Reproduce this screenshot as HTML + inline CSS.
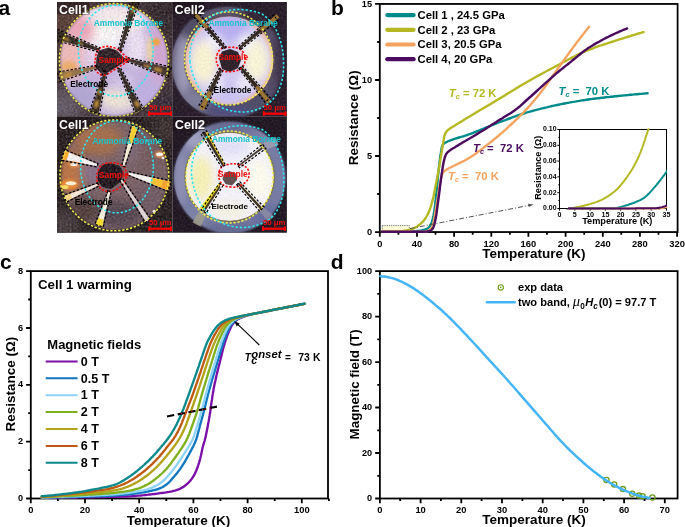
<!DOCTYPE html>
<html><head><meta charset="utf-8"><title>Figure</title>
<style>
html,body{margin:0;padding:0;background:#fff;}
body{width:685px;height:527px;overflow:hidden;position:relative;}
svg{position:absolute;left:0;top:0;display:block;}
svg text{font-family:"Liberation Sans",sans-serif;font-weight:bold;fill:#000;}
.it{font-style:italic;}
</style></head><body>
<svg width="685" height="527" viewBox="0 0 685 527">
<rect width="685" height="527" fill="#fff"/>

<g font-size="21">
<text x="-1.6" y="15.3">a</text><text x="331" y="15">b</text><text x="0" y="269">c</text><text x="330.8" y="269">d</text>
</g>
<g id="panel-a">
<defs>
<filter id="b1" x="-50%" y="-50%" width="200%" height="200%"><feGaussianBlur stdDeviation="1"/></filter>
<filter id="b2" x="-50%" y="-50%" width="200%" height="200%"><feGaussianBlur stdDeviation="2.2"/></filter>
<filter id="b4" x="-50%" y="-50%" width="200%" height="200%"><feGaussianBlur stdDeviation="4.5"/></filter>
<filter id="b8" x="-50%" y="-50%" width="200%" height="200%"><feGaussianBlur stdDeviation="8"/></filter>
<filter id="b05" x="-20%" y="-20%" width="140%" height="140%"><feGaussianBlur stdDeviation="0.45"/></filter>
<filter id="grain" x="0" y="0" width="100%" height="100%"><feTurbulence type="fractalNoise" baseFrequency="0.5" numOctaves="2" seed="7" result="n"/><feColorMatrix in="n" type="matrix" values="0 0 0 0 0.45  0 0 0 0 0.38  0 0 0 0 0.35  0.9 0.9 0.9 0 -1.1"/></filter>
<clipPath id="ca1"><rect x="57" y="2.1" width="115.4" height="114.7"/></clipPath>
<clipPath id="ca2"><rect x="172.4" y="2.1" width="114.5" height="114.7"/></clipPath>
<clipPath id="ca3"><rect x="57" y="116.8" width="115.4" height="115.9"/></clipPath>
<clipPath id="ca4"><rect x="172.4" y="116.8" width="114.5" height="115.9"/></clipPath>
<clipPath id="cc1"><ellipse cx="114" cy="60.2" rx="53.8" ry="56"/></clipPath>
<clipPath id="cc3"><ellipse cx="114.5" cy="175.3" rx="53.8" ry="55"/></clipPath>
<clipPath id="cr2"><circle cx="227.5" cy="63" r="56"/></clipPath>
<clipPath id="cr4"><circle cx="229.7" cy="177.6" r="55.8"/></clipPath>
<clipPath id="cc2"><circle cx="229.3" cy="60.5" r="44.5"/></clipPath>
<clipPath id="cc4"><circle cx="229.7" cy="176.8" r="44.4"/></clipPath>
</defs>
<g clip-path="url(#ca1)">
<rect x="57" y="2" width="116" height="115" fill="#3a2a30"/>
<ellipse cx="68" cy="18" rx="26" ry="20" fill="#55382f" filter="url(#b8)" opacity="0.9"/>
<ellipse cx="64" cy="106" rx="20" ry="18" fill="#5e5666" filter="url(#b8)" opacity="0.95"/>
<ellipse cx="166" cy="14" rx="18" ry="22" fill="#281c24" filter="url(#b8)" opacity="1"/>
<ellipse cx="166" cy="108" rx="16" ry="16" fill="#2a2030" filter="url(#b8)" opacity="1"/>
<g clip-path="url(#cc1)">
<ellipse cx="114" cy="60.2" rx="53.8" ry="56" fill="#c8b4e4"/>
<ellipse cx="112" cy="22" rx="34" ry="18" fill="#fdf0f4" filter="url(#b4)" opacity="1"/>
<ellipse cx="102" cy="40" rx="20" ry="16" fill="#ffffff" filter="url(#b4)" opacity="0.9"/>
<ellipse cx="80" cy="30" rx="14" ry="14" fill="#f2a8bc" filter="url(#b4)" opacity="1"/>
<ellipse cx="72" cy="58" rx="15" ry="22" fill="#f6bcbc" filter="url(#b4)" opacity="1"/>
<ellipse cx="69" cy="67" rx="8" ry="6" fill="#f2ac58" filter="url(#b2)" opacity="0.9"/>
<ellipse cx="92" cy="58" rx="10" ry="12" fill="#ead4f2" filter="url(#b4)" opacity="0.9"/>
<ellipse cx="137" cy="48" rx="12" ry="18" fill="#f2e8fc" filter="url(#b4)" opacity="0.95"/>
<ellipse cx="158" cy="56" rx="9" ry="28" fill="#d8a4d6" filter="url(#b4)" opacity="0.95"/>
<ellipse cx="150" cy="50" rx="2.5" ry="14" fill="#f8e690" filter="url(#b2)" opacity="0.9"/>
<ellipse cx="156" cy="42" rx="4" ry="3.6" fill="#f9a628" filter="url(#b1)" opacity="0.95"/>
<ellipse cx="118" cy="99" rx="20" ry="12" fill="#f4ecdc" filter="url(#b4)" opacity="0.95"/>
<ellipse cx="82" cy="98" rx="16" ry="14" fill="#aea6d8" filter="url(#b4)" opacity="0.9"/>
<ellipse cx="145" cy="93" rx="14" ry="14" fill="#c0b0ea" filter="url(#b4)" opacity="0.9"/>
<ellipse cx="124" cy="82" rx="10" ry="10" fill="#dccff4" filter="url(#b4)" opacity="0.8"/>
</g>
<ellipse cx="114" cy="60.2" rx="54.3" ry="56.5" fill="none" stroke="#4a3a40" stroke-width="1.6" filter="url(#b1)" opacity="0.7"/>
<polygon points="120.8,50.7 119.0,50.1 132.2,-0.5 138.6,1.5" fill="#24160e" filter="url(#b05)" opacity="0.95"/>
<polygon points="99.2,48.5 98.2,51.1 54.1,38.8 57.1,30.4" fill="#1e130f" filter="url(#b05)" opacity="0.95"/>
<polygon points="96.1,66.1 96.7,68.3 59.8,80.6 57.8,73.1" fill="#8a683a" filter="url(#b05)" opacity="0.95"/>
<polygon points="104.3,71.3 106.5,71.9 98.6,113.7 90.4,111.5" fill="#2a1a10" filter="url(#b05)" opacity="0.95"/>
<polygon points="118.0,68.7 119.6,67.9 142.5,108.6 135.7,111.8" fill="#20140e" filter="url(#b05)" opacity="0.95"/>
<polygon points="126.3,60.4 126.9,58.2 171.2,67.9 168.4,77.0" fill="#30201a" filter="url(#b05)" opacity="0.95"/>
<ellipse cx="66" cy="39" rx="3.6" ry="1.6" fill="#c8902f" filter="url(#b1)" opacity="0.9" transform="rotate(18 66 39)"/>
<ellipse cx="68" cy="75" rx="4.5" ry="2.0" fill="#c8902f" filter="url(#b1)" opacity="0.9" transform="rotate(-14 68 75)"/>
<ellipse cx="96.5" cy="104" rx="2.25" ry="4.0" fill="#c8902f" filter="url(#b1)" opacity="0.9" transform="rotate(12 96.5 104)"/>
<ellipse cx="137" cy="104" rx="2.25" ry="3.6" fill="#c8902f" filter="url(#b1)" opacity="0.9" transform="rotate(-25 137 104)"/>
<ellipse cx="158" cy="69.5" rx="4.5" ry="2.0" fill="#c8902f" filter="url(#b1)" opacity="0.9" transform="rotate(17 158 69.5)"/>
<ellipse cx="133" cy="10" rx="1.8" ry="3.2" fill="#c8902f" filter="url(#b1)" opacity="0.9" transform="rotate(-17 133 10)"/>
<ellipse cx="80" cy="43" rx="2.7" ry="1.2000000000000002" fill="#c8902f" filter="url(#b1)" opacity="0.9" transform="rotate(18 80 43)"/>
<ellipse cx="147" cy="66" rx="3.6" ry="1.2800000000000002" fill="#c8902f" filter="url(#b1)" opacity="0.9" transform="rotate(17 147 66)"/>
<ellipse cx="99" cy="92" rx="1.4400000000000002" ry="3.2" fill="#c8902f" filter="url(#b1)" opacity="0.9" transform="rotate(12 99 92)"/>
<polygon points="98.8,50.5 108.7,47.6 116.9,50.5 122.7,56.4 127.4,59.9 116.9,66.9 108.7,72.1 101.7,73.9 95.9,68.0 96.5,57.5" fill="#22161e" filter="url(#b05)" opacity="1"/>
<rect x="57" y="2" width="116" height="115" filter="url(#grain)" opacity="0.5"/>
<ellipse cx="114" cy="60.2" rx="54.6" ry="56.6" fill="none" stroke="#f0ee4c" stroke-width="1.5" stroke-dasharray="2.3,1.7"/>
<ellipse cx="115.8" cy="50.6" rx="37.4" ry="45.4" fill="none" stroke="#2ee8f0" stroke-width="1.55" stroke-dasharray="2.3,1.9"/>
<path d="M97,51.7 Q99,47.5 102.9,47 Q108,45.5 113.4,47.6 Q118,49 120.4,51.7 L129.2,59.3 Q128.5,61.5 125.7,62.8 L116.9,68 L108.7,73.3 Q105,75.5 101.7,75 Q97,73.5 95.3,69.2 Q94.3,64 95.3,59.9 Q95.5,55 97,51.7Z" fill="none" stroke="#f80c0c" stroke-width="1.6" stroke-dasharray="2.2,1.5"/>
<polygon points="121.5,50.9 118.3,49.9 131.2,-0.8 139.5,1.8" fill="none" stroke="#000" stroke-width="1.2" stroke-dasharray="2.4,1.7"/>
<polygon points="99.4,47.7 98.0,51.9 53.7,39.8 57.4,29.4" fill="none" stroke="#000" stroke-width="1.2" stroke-dasharray="2.4,1.7"/>
<polygon points="95.9,65.4 96.9,69.0 60.0,81.6 57.6,72.1" fill="none" stroke="#000" stroke-width="1.2" stroke-dasharray="2.4,1.7"/>
<polygon points="103.6,71.1 107.2,72.1 99.6,113.9 89.5,111.3" fill="none" stroke="#000" stroke-width="1.2" stroke-dasharray="2.4,1.7"/>
<polygon points="117.3,69.0 120.3,67.6 143.4,108.1 134.8,112.3" fill="none" stroke="#000" stroke-width="1.2" stroke-dasharray="2.4,1.7"/>
<polygon points="126.0,61.1 127.2,57.5 171.4,67.0 168.1,78.0" fill="none" stroke="#000" stroke-width="1.2" stroke-dasharray="2.4,1.7"/>
</g>
<g clip-path="url(#ca2)">
<rect x="172" y="2" width="116" height="115" fill="#241827"/>
<circle cx="227.5" cy="63" r="56" fill="#524e6a" filter="url(#b1)"/>
<g clip-path="url(#cr2)">
<ellipse cx="184" cy="66" rx="10" ry="32" fill="#9c9aba" filter="url(#b4)" opacity="1"/>
<ellipse cx="196" cy="100" rx="16" ry="12" fill="#8080a0" filter="url(#b4)" opacity="0.9"/>
<ellipse cx="232" cy="110" rx="26" ry="6" fill="#4c4c86" filter="url(#b4)" opacity="0.95"/>
<ellipse cx="262" cy="104" rx="18" ry="10" fill="#4c4866" filter="url(#b4)" opacity="0.85"/>
<ellipse cx="264" cy="14" rx="26" ry="12" fill="#2a1e2e" filter="url(#b4)" opacity="0.95"/>
<ellipse cx="282" cy="58" rx="7" ry="40" fill="#35283e" filter="url(#b4)" opacity="0.95"/>
<ellipse cx="192" cy="24" rx="12" ry="12" fill="#4c4660" filter="url(#b4)" opacity="0.8"/>
<ellipse cx="228" cy="9" rx="22" ry="5" fill="#5a5670" filter="url(#b4)" opacity="0.8"/>
</g>
<g clip-path="url(#cc2)">
<circle cx="229.3" cy="60.5" r="44.5" fill="#d4ccf6"/>
<circle cx="229.3" cy="60.5" r="42.8" fill="none" stroke="#f0b498" stroke-width="3.4" filter="url(#b1)" opacity="0.9"/>
<ellipse cx="229" cy="27" rx="20" ry="14" fill="#b8b0f4" filter="url(#b4)" opacity="1"/>
<ellipse cx="204" cy="62" rx="13" ry="22" fill="#fbf6d4" filter="url(#b4)" opacity="1"/>
<ellipse cx="256" cy="60" rx="13" ry="22" fill="#fbf8da" filter="url(#b4)" opacity="1"/>
<ellipse cx="229" cy="93" rx="18" ry="12" fill="#ccc4f6" filter="url(#b4)" opacity="1"/>
<ellipse cx="214" cy="42" rx="8" ry="8" fill="#ffffff" filter="url(#b4)" opacity="0.8"/>
<ellipse cx="246" cy="42" rx="8" ry="8" fill="#ffffff" filter="url(#b4)" opacity="0.8"/>
<ellipse cx="216" cy="84" rx="8" ry="8" fill="#ffffff" filter="url(#b4)" opacity="0.7"/>
<ellipse cx="244" cy="84" rx="8" ry="8" fill="#ffffff" filter="url(#b4)" opacity="0.7"/>
</g>
<circle cx="229.3" cy="60.5" r="44.8" fill="none" stroke="#5a4c50" stroke-width="1.4" filter="url(#b05)" opacity="0.85"/>
<polygon points="225.6,47.4 224.0,48.8 193.9,15.7 197.3,12.7" fill="#24160f" filter="url(#b05)" opacity="0.96"/>
<polygon points="240.0,48.9 238.8,47.3 274.0,15.8 277.2,19.6" fill="#2a1a12" filter="url(#b05)" opacity="0.96"/>
<polygon points="219.9,68.9 222.1,69.9 205.4,108.3 200.0,105.7" fill="#2a1c14" filter="url(#b05)" opacity="0.96"/>
<polygon points="239.5,68.0 241.5,66.4 269.5,98.5 265.6,101.6" fill="#24160f" filter="url(#b05)" opacity="0.96"/>
<polygon points="208.6,27.1 206.4,29.0 192.2,13.2 195.1,10.7" fill="#a87c30" filter="url(#b05)" opacity="0.9"/>
<polygon points="261.9,31.2 259.9,28.9 276.6,14.2 279.3,17.4" fill="#a87c30" filter="url(#b05)" opacity="0.9"/>
<polygon points="208.5,90.8 211.9,92.4 203.7,110.8 199.1,108.6" fill="#a87c30" filter="url(#b05)" opacity="0.9"/>
<polygon points="255.2,87.6 257.7,85.6 271.1,101.0 267.8,103.7" fill="#a87c30" filter="url(#b05)" opacity="0.9"/>
<polygon points="219.0,58.0 222.0,51.5 230.0,49.0 238.0,52.0 241.0,60.0 238.0,68.0 230.0,72.0 222.0,69.0" fill="#2a1e26" filter="url(#b05)" opacity="1"/>
<rect x="172" y="2" width="116" height="115" filter="url(#grain)" opacity="0.22"/>
<ellipse cx="228.5" cy="58.5" rx="44" ry="46.5" fill="none" stroke="#f0ee4c" stroke-width="1.5" stroke-dasharray="2.3,1.7"/>
<path d="M190,62 Q188,30 215,14 Q240,5 262,14 Q282,28 283.5,60 Q285,90 268,104 Q250,116 228,110 Q196,100 190,62Z" fill="none" stroke="#2ee8f0" stroke-width="1.55" stroke-dasharray="2.3,1.9"/>
<path d="M217,55 Q219,47 228,47.5 Q238,46 243,52 Q247,58 244,65 Q240,71 232,71.5 Q222,73 218,66 Q215,60 217,55Z" fill="none" stroke="#f80c0c" stroke-width="1.6" stroke-dasharray="2.2,1.5"/>
<polygon points="226.2,46.9 223.4,49.3 193.1,16.3 198.1,12.1" fill="none" stroke="#000" stroke-width="1.2" stroke-dasharray="2.4,1.7"/>
<polygon points="240.6,49.5 238.2,46.7 273.4,15.0 277.9,20.4" fill="none" stroke="#000" stroke-width="1.2" stroke-dasharray="2.4,1.7"/>
<polygon points="219.2,68.5 222.8,70.3 206.3,108.7 199.1,105.3" fill="none" stroke="#000" stroke-width="1.2" stroke-dasharray="2.4,1.7"/>
<polygon points="238.9,68.5 242.1,65.9 270.3,97.8 264.9,102.3" fill="none" stroke="#000" stroke-width="1.2" stroke-dasharray="2.4,1.7"/>
</g>
<g clip-path="url(#ca3)">
<rect x="57" y="116" width="116" height="118" fill="#1e1618"/>
<ellipse cx="166" cy="128" rx="14" ry="12" fill="#403636" filter="url(#b8)" opacity="0.9"/>
<ellipse cx="64" cy="224" rx="16" ry="14" fill="#4c4044" filter="url(#b8)" opacity="0.9"/>
<g clip-path="url(#cc3)">
<ellipse cx="114.5" cy="175.3" rx="53.8" ry="55" fill="#745c62"/>
<ellipse cx="98" cy="140" rx="26" ry="16" fill="#a66a44" filter="url(#b4)" opacity="0.95"/>
<ellipse cx="72" cy="172" rx="14" ry="22" fill="#c0723e" filter="url(#b4)" opacity="0.95"/>
<ellipse cx="150" cy="150" rx="16" ry="22" fill="#6e5458" filter="url(#b4)" opacity="0.9"/>
<ellipse cx="152" cy="200" rx="16" ry="18" fill="#6a5460" filter="url(#b4)" opacity="0.9"/>
<ellipse cx="94" cy="172" rx="14" ry="12" fill="#86708c" filter="url(#b4)" opacity="0.85"/>
<ellipse cx="130" cy="150" rx="12" ry="14" fill="#7c6878" filter="url(#b4)" opacity="0.7"/>
<ellipse cx="118" cy="214" rx="24" ry="13" fill="#4c3c48" filter="url(#b4)" opacity="0.95"/>
<ellipse cx="84" cy="210" rx="14" ry="13" fill="#463432" filter="url(#b4)" opacity="0.95"/>
</g>
<ellipse cx="114.5" cy="175.3" rx="54.1" ry="55.3" fill="none" stroke="#201818" stroke-width="1.6" filter="url(#b1)" opacity="0.8"/>
<polygon points="124.2,166.5 122.4,165.9 132.4,125.3 137.9,126.9" fill="#fff8dc" filter="url(#b05)" opacity="0.97"/>
<polygon points="97.8,164.2 97.2,166.2 61.7,159.3 64.4,150.4" fill="#ffffff" filter="url(#b05)" opacity="0.97"/>
<polygon points="97.9,183.6 98.7,185.2 66.1,201.3 63.9,196.1" fill="#fff4e4" filter="url(#b05)" opacity="0.97"/>
<polygon points="108.7,191.0 110.5,191.6 102.2,226.7 95.7,224.7" fill="#fffbe6" filter="url(#b05)" opacity="0.97"/>
<polygon points="120.1,179.9 121.7,178.9 149.9,219.6 146.1,222.1" fill="#eadfe0" filter="url(#b05)" opacity="0.97"/>
<polygon points="127.5,174.2 128.1,172.2 170.8,181.8 168.1,190.4" fill="#ffffff" filter="url(#b05)" opacity="0.97"/>
<polygon points="132.1,143.6 128.2,142.4 132.4,125.3 137.9,126.9" fill="#ffd21c" filter="url(#b05)" opacity="0.95"/>
<polygon points="69.0,152.2 66.6,160.4 61.7,159.3 64.4,150.4" fill="#ffa820" filter="url(#b05)" opacity="0.95"/>
<polygon points="98.2,218.1 103.9,219.9 102.2,226.7 95.7,224.7" fill="#ffe01c" filter="url(#b05)" opacity="0.95"/>
<polygon points="150.2,183.3 152.0,177.6 170.8,181.8 168.1,190.4" fill="#ffc21c" filter="url(#b05)" opacity="0.95"/>
<polygon points="160.8,187.6 163.2,180.0 170.8,181.8 168.1,190.4" fill="#ff9a20" filter="url(#b05)" opacity="0.8"/>
<polygon points="70.2,193.7 72.2,198.4 66.1,201.3 63.9,196.1" fill="#ffd870" filter="url(#b05)" opacity="0.8"/>
<ellipse cx="159.5" cy="154.5" rx="5" ry="3.4" fill="#ff9a40" filter="url(#b1)" opacity="0.8"/>
<ellipse cx="159.5" cy="154.3" rx="3.4" ry="1.9" fill="#ffffff" filter="url(#b05)" opacity="1"/>
<ellipse cx="163" cy="158" rx="1.5" ry="1.2" fill="#ffffff" filter="url(#b05)" opacity="0.9"/>
<ellipse cx="74" cy="164.6" rx="5" ry="2.6" fill="#ff9a40" filter="url(#b1)" opacity="0.8"/>
<ellipse cx="74" cy="164.5" rx="3.6" ry="1.6" fill="#ffffff" filter="url(#b05)" opacity="1"/>
<ellipse cx="69" cy="184.5" rx="9" ry="5" fill="#ff8c28" filter="url(#b1)" opacity="0.85"/>
<ellipse cx="71" cy="183.3" rx="5.5" ry="2" fill="#fffbe0" filter="url(#b05)" opacity="1"/>
<ellipse cx="65" cy="187" rx="3.5" ry="2" fill="#ffe060" filter="url(#b05)" opacity="1"/>
<ellipse cx="154.2" cy="211.3" rx="1.6" ry="1.6" fill="#ffffff" filter="url(#b05)" opacity="0.95"/>
<polygon points="98.0,172.0 102.0,165.0 111.0,163.0 120.0,166.0 124.0,174.0 119.0,183.0 111.0,189.0 102.0,187.0 97.5,180.0" fill="#180f12" filter="url(#b05)" opacity="1"/>
<rect x="57" y="116" width="116" height="118" filter="url(#grain)" opacity="0.45"/>
<ellipse cx="114.4" cy="175.4" rx="54.4" ry="55.4" fill="none" stroke="#f0ee4c" stroke-width="1.5" stroke-dasharray="2.3,1.7"/>
<ellipse cx="117" cy="166.8" rx="36.4" ry="46" fill="none" stroke="#2ee8f0" stroke-width="1.55" stroke-dasharray="2.3,1.9"/>
<path d="M98,171 Q100,163 110,163 Q120,162 125,168 Q128,176 124,183 Q119,190 112,191 Q103,193 99,186 Q95,179 98,171Z" fill="none" stroke="#f80c0c" stroke-width="1.6" stroke-dasharray="2.2,1.5"/>
<polygon points="124.9,166.7 121.7,165.7 131.4,125.0 138.8,127.1" fill="none" stroke="#000" stroke-width="1.2" stroke-dasharray="2.4,1.7"/>
<polygon points="98.0,163.5 97.0,166.9 61.4,160.3 64.7,149.5" fill="none" stroke="#000" stroke-width="1.2" stroke-dasharray="2.4,1.7"/>
<polygon points="97.6,182.8 99.0,186.0 66.5,202.2 63.5,195.2" fill="none" stroke="#000" stroke-width="1.2" stroke-dasharray="2.4,1.7"/>
<polygon points="108.0,190.8 111.2,191.8 103.2,227.0 94.8,224.4" fill="none" stroke="#000" stroke-width="1.2" stroke-dasharray="2.4,1.7"/>
<polygon points="119.5,180.3 122.3,178.5 150.8,219.0 145.3,222.7" fill="none" stroke="#000" stroke-width="1.2" stroke-dasharray="2.4,1.7"/>
<polygon points="127.3,174.9 128.3,171.5 171.1,180.9 167.8,191.4" fill="none" stroke="#000" stroke-width="1.2" stroke-dasharray="2.4,1.7"/>
</g>
<g clip-path="url(#ca4)">
<rect x="172" y="116" width="116" height="118" fill="#1c1420"/>
<circle cx="229.7" cy="177.6" r="55.8" fill="#747aa4" filter="url(#b1)"/>
<g clip-path="url(#cr4)">
<ellipse cx="181" cy="178" rx="7" ry="30" fill="#9092b6" filter="url(#b4)" opacity="0.95"/>
<ellipse cx="194" cy="138" rx="12" ry="12" fill="#a6a6c6" filter="url(#b4)" opacity="0.9"/>
<ellipse cx="230" cy="127" rx="24" ry="4" fill="#5c5c84" filter="url(#b4)" opacity="0.9"/>
<ellipse cx="279" cy="178" rx="6" ry="30" fill="#747ca6" filter="url(#b4)" opacity="0.9"/>
<ellipse cx="266" cy="216" rx="16" ry="10" fill="#6068a0" filter="url(#b4)" opacity="0.85"/>
<ellipse cx="230" cy="229" rx="26" ry="4" fill="#565c86" filter="url(#b4)" opacity="0.9"/>
<ellipse cx="194" cy="216" rx="14" ry="10" fill="#7c84a8" filter="url(#b4)" opacity="0.85"/>
<ellipse cx="268" cy="138" rx="10" ry="10" fill="#8486aa" filter="url(#b4)" opacity="0.8"/>
</g>
<g clip-path="url(#cc4)">
<circle cx="229.7" cy="176.8" r="44.4" fill="#f6f5fd"/>
<ellipse cx="229" cy="146" rx="20" ry="10" fill="#e2e2fa" filter="url(#b4)" opacity="0.95"/>
<ellipse cx="201" cy="178" rx="12" ry="22" fill="#f8f3b8" filter="url(#b4)" opacity="1"/>
<ellipse cx="258" cy="180" rx="12" ry="20" fill="#fffef0" filter="url(#b4)" opacity="1"/>
<ellipse cx="229" cy="210" rx="18" ry="9" fill="#f6f4e4" filter="url(#b4)" opacity="1"/>
</g>
<circle cx="229.7" cy="176.8" r="44.7" fill="none" stroke="#7a7040" stroke-width="1.3" filter="url(#b05)" opacity="0.8"/>
<polygon points="264.8,150.1 262.0,143.7 275.4,137.3 278.6,144.7" fill="#a0a0b4" filter="url(#b05)" opacity="0.85"/>
<polygon points="200.0,209.6 207.0,213.4 200.5,226.6 192.5,222.4" fill="#a09e8c" filter="url(#b05)" opacity="0.85"/>
<polygon points="258.9,210.4 263.3,206.4 273.9,216.3 268.1,221.7" fill="#8e8ea4" filter="url(#b05)" opacity="0.8"/>
<polygon points="206.4,132.0 202.0,134.4 196.0,125.7 202.0,122.3" fill="#8a8aa4" filter="url(#b05)" opacity="0.7"/>
<polygon points="225.2,165.1 223.8,165.9 205.0,133.3 208.0,131.7" fill="#f0d428" filter="url(#b05)" opacity="0.95"/>
<polygon points="219.0,183.2 220.6,184.4 204.3,211.1 199.7,207.9" fill="#f4e61e" filter="url(#b05)" opacity="0.95"/>
<polygon points="239.1,184.6 239.9,183.8 262.9,208.7 261.1,210.3" fill="#e8c83a" filter="url(#b05)" opacity="0.9"/>
<polygon points="224.4,165.7 222.6,166.7 202.4,133.1 205.0,131.6" fill="#2c2016" filter="url(#b05)" opacity="0.95"/>
<polygon points="238.7,166.8 237.9,165.6 263.5,145.4 264.9,147.2" fill="#3a2e26" filter="url(#b05)" opacity="0.95"/>
<polygon points="220.4,183.9 222.0,184.9 204.7,212.1 202.6,210.7" fill="#3a2a18" filter="url(#b05)" opacity="0.95"/>
<polygon points="237.6,183.9 239.0,182.7 262.7,208.3 260.8,210.0" fill="#2c2016" filter="url(#b05)" opacity="0.95"/>
<polygon points="224.0,174.0 229.0,171.0 236.0,173.5 237.0,180.0 232.0,185.5 225.5,184.0 222.5,179.0" fill="#5e4e50" filter="url(#b05)" opacity="1"/>
<ellipse cx="240" cy="171.5" rx="2.2" ry="1.6" fill="#ffffff" filter="url(#b05)" opacity="1"/>
<ellipse cx="222" cy="186" rx="2" ry="2.4" fill="#ffffff" filter="url(#b05)" opacity="1"/>
<rect x="172" y="116" width="116" height="118" filter="url(#grain)" opacity="0.2"/>
<ellipse cx="229.5" cy="177" rx="43.6" ry="46" fill="none" stroke="#f0ee4c" stroke-width="1.5" stroke-dasharray="2.3,1.7"/>
<path d="M191.6,176 Q190,146 215,131 Q240,121 263,130 Q282,144 283.8,176 Q285,206 270,219 Q252,231 230,226 Q197,216 191.6,176Z" fill="none" stroke="#2ee8f0" stroke-width="1.55" stroke-dasharray="2.3,1.9"/>
<path d="M219,172 Q221,164.5 228.5,164.5 Q233,163 238,164.5 Q247,165 249,172 Q250,180 243,184 Q238,188 231,187 Q222,187 219.5,180 Q218,176 219,172Z" fill="none" stroke="#f80c0c" stroke-width="1.6" stroke-dasharray="2.2,1.5"/>
<polygon points="225.4,165.1 221.6,167.3 200.9,134.0 206.5,130.7" fill="none" stroke="#000" stroke-width="1.2" stroke-dasharray="2.4,1.7"/>
<polygon points="239.5,167.7 237.1,164.7 262.5,144.1 265.9,148.5" fill="none" stroke="#000" stroke-width="1.2" stroke-dasharray="2.4,1.7"/>
<polygon points="219.4,183.3 223.0,185.5 206.2,213.1 201.1,209.8" fill="none" stroke="#000" stroke-width="1.2" stroke-dasharray="2.4,1.7"/>
<polygon points="236.7,184.7 239.9,181.9 264.0,207.1 259.6,211.2" fill="none" stroke="#000" stroke-width="1.2" stroke-dasharray="2.4,1.7"/>
</g>
<rect x="57" y="2.1" width="32.6" height="12.4" fill="#1a1016" opacity="0.55"/>
<rect x="172.4" y="2.1" width="32.6" height="12.4" fill="#1a1016" opacity="0.55"/>
<rect x="57" y="116.8" width="32.6" height="12.4" fill="#1a1016" opacity="0.55"/>
<rect x="172.4" y="117.6" width="32.6" height="12.4" fill="#1a1016" opacity="0.55"/>
<text x="59" y="13.8" font-size="13.6" textLength="29.5" lengthAdjust="spacingAndGlyphs" style="fill:#fff">Cell1</text>
<text x="174.6" y="13.8" font-size="13.6" textLength="30.3" lengthAdjust="spacingAndGlyphs" style="fill:#fff">Cell2</text>
<text x="59" y="128.5" font-size="13.6" textLength="29.5" lengthAdjust="spacingAndGlyphs" style="fill:#fff">Cell1</text>
<text x="174.8" y="129.2" font-size="13.6" textLength="30.3" lengthAdjust="spacingAndGlyphs" style="fill:#fff">Cell2</text>
<text x="93.8" y="26.3" font-size="8.4" style="fill:#18c4cc">Ammonia Borane</text>
<text x="208.4" y="26.1" font-size="8.4" style="fill:#18c4cc">Ammonia Borane</text>
<text x="92.4" y="144" font-size="8.45" style="fill:#18c4cc">Ammonia Borane</text>
<text x="211.9" y="142.1" font-size="8.35" style="fill:#18c4cc">Ammonia Borane</text>
<text x="98.6" y="62.9" font-size="8.35" style="fill:#f20c0c">Sample</text>
<text x="218.4" y="59.8" font-size="8.35" style="fill:#f20c0c">Sample</text>
<text x="98.8" y="177.8" font-size="8.5" style="fill:#f20c0c">Sample</text>
<text x="218" y="176.6" font-size="8.35" style="fill:#f20c0c">Sample</text>
<text x="70.2" y="86.6" font-size="8.3" style="fill:#000">Electrode</text>
<text x="213.6" y="92.5" font-size="8.3" style="fill:#000">Electrode</text>
<text x="74.7" y="204.5" font-size="8.3" style="fill:#000">Electrode</text>
<text x="211.4" y="208.7" font-size="8.0" style="fill:#000">Electrode</text>
<text x="148.89999999999998" y="109.8" font-size="6.9" textLength="22.600000000000012" lengthAdjust="spacingAndGlyphs" style="fill:#f20c0c">50 μm</text>
<path d="M148.2,113.7H172.0" stroke="#ff0000" stroke-width="2.3" fill="none"/><path d="M149.1,111.2v4.9M171.1,111.2v4.9" stroke="#ff0000" stroke-width="1.8" fill="none"/>
<text x="263.59999999999997" y="109.8" font-size="6.9" textLength="22.200000000000035" lengthAdjust="spacingAndGlyphs" style="fill:#f20c0c">50 μm</text>
<path d="M262.9,113.7H286.3" stroke="#ff0000" stroke-width="2.3" fill="none"/><path d="M263.79999999999995,111.2v4.9M285.40000000000003,111.2v4.9" stroke="#ff0000" stroke-width="1.8" fill="none"/>
<text x="149.1" y="225.0" font-size="6.9" textLength="22.200000000000006" lengthAdjust="spacingAndGlyphs" style="fill:#f20c0c">50 μm</text>
<path d="M148.4,228.7H171.8" stroke="#ff0000" stroke-width="2.3" fill="none"/><path d="M149.3,226.2v4.9M170.9,226.2v4.9" stroke="#ff0000" stroke-width="1.8" fill="none"/>
<text x="262.9" y="225.0" font-size="6.9" textLength="22.49999999999999" lengthAdjust="spacingAndGlyphs" style="fill:#f20c0c">50 μm</text>
<path d="M262.2,228.7H285.9" stroke="#ff0000" stroke-width="2.3" fill="none"/><path d="M263.09999999999997,226.2v4.9M285.0,226.2v4.9" stroke="#ff0000" stroke-width="1.8" fill="none"/>
</g>
<g id="panel-b">
<rect x="382.3" y="225.6" width="27.0" height="6.5" fill="#fdfcd8" stroke="#333" stroke-width="0.7" stroke-dasharray="1.2,1"/>
<rect x="379.8" y="3.95" width="297.8" height="228.10000000000002" fill="none" stroke="#000" stroke-width="1.8"/>
<path d="M379.8,232.05v4.7M417.0,232.05v4.7M454.1,232.05v4.7M491.3,232.05v4.7M528.4,232.05v4.7M565.6,232.05v4.7M602.8,232.05v4.7M639.9,232.05v4.7M677.1,232.05v4.7M398.4,232.05v2.6M435.5,232.05v2.6M472.7,232.05v2.6M509.9,232.05v2.6M547.0,232.05v2.6M584.2,232.05v2.6M621.3,232.05v2.6M658.5,232.05v2.6M379.8,232.1h-4.7M379.8,156.0h-4.7M379.8,80.0h-4.7M379.8,3.9h-4.7M379.8,194.0h-2.6M379.8,118.0h-2.6M379.8,42.0h-2.6" stroke="#000" stroke-width="1.8" fill="none"/>
<text x="379.8" y="246.8" text-anchor="middle" font-size="9.4">0</text>
<text x="417.0" y="246.8" text-anchor="middle" font-size="9.4">40</text>
<text x="454.1" y="246.8" text-anchor="middle" font-size="9.4">80</text>
<text x="491.3" y="246.8" text-anchor="middle" font-size="9.4">120</text>
<text x="528.4" y="246.8" text-anchor="middle" font-size="9.4">160</text>
<text x="565.6" y="246.8" text-anchor="middle" font-size="9.4">200</text>
<text x="602.8" y="246.8" text-anchor="middle" font-size="9.4">240</text>
<text x="639.9" y="246.8" text-anchor="middle" font-size="9.4">280</text>
<text x="677.1" y="246.8" text-anchor="middle" font-size="9.4">320</text>
<text x="372.0" y="234.6" text-anchor="end" font-size="9.17">0</text>
<text x="372.0" y="158.6" text-anchor="end" font-size="9.17">5</text>
<text x="372.0" y="82.5" text-anchor="end" font-size="9.17">10</text>
<text x="372.0" y="6.5" text-anchor="end" font-size="9.17">15</text>
<path d="M382.0,231.6 L383.5,231.6 L385.0,231.6 L386.5,231.6 L388.0,231.6 L389.5,231.6 L391.0,231.6 L392.5,231.6 L394.0,231.6 L395.5,231.6 L397.0,231.6 L398.5,231.6 L400.0,231.6 L401.5,231.6 L403.0,231.5 L404.5,231.5 L406.0,231.5 L407.5,231.5 L409.0,231.5 L410.5,231.5 L412.0,231.4 L413.5,231.3 L415.0,231.2 L416.5,231.0 L418.0,230.9 L419.5,230.7 L421.0,230.5 L422.4,230.2 L423.9,229.8 L425.3,229.4 L426.7,228.9 L428.0,228.2 L429.1,227.2 L430.0,225.9 L430.7,224.6 L431.3,223.3 L431.9,221.9 L432.3,220.4 L432.7,219.0 L433.0,217.5 L433.4,216.1 L433.7,214.6 L433.9,213.1 L434.2,211.6 L434.4,210.2 L434.6,208.7 L434.8,207.2 L435.0,205.7 L435.2,204.2 L435.3,202.7 L435.5,201.2 L435.7,199.7 L435.8,198.2 L436.0,196.7 L436.1,195.3 L436.3,193.8 L436.5,192.3 L436.6,190.8 L436.8,189.3 L436.9,187.8 L437.0,186.3 L437.2,184.8 L437.3,183.3 L437.5,181.8 L437.6,180.3 L437.7,178.8 L437.9,177.3 L438.0,175.8 L438.2,174.3 L438.3,172.8 L438.5,171.3 L438.7,169.9 L438.8,168.4 L439.0,166.9 L439.2,165.4 L439.4,163.9 L439.5,162.4 L439.7,160.9 L439.9,159.4 L440.1,157.9 L440.3,156.4 L440.5,155.0 L440.8,153.5 L441.0,152.0 L441.3,150.5 L441.5,149.0 L441.8,147.6 L442.2,146.1 L442.8,144.8 L443.7,143.7 L444.9,142.8 L446.3,142.2 L447.6,141.5 L449.0,140.9 L450.4,140.4 L451.8,139.9 L453.2,139.3 L454.6,138.9 L456.1,138.4 L457.5,138.0 L458.9,137.5 L460.4,137.1 L461.8,136.7 L463.2,136.3 L464.7,135.8 L466.1,135.4 L467.5,134.9 L468.9,134.4 L470.4,133.9 L471.8,133.3 L473.2,132.8 L474.6,132.2 L476.0,131.7 L477.4,131.1 L478.7,130.6 L480.1,130.0 L481.5,129.4 L482.9,128.9 L484.3,128.3 L485.7,127.7 L487.1,127.1 L488.5,126.6 L489.9,126.0 L491.2,125.4 L492.6,124.9 L494.0,124.3 L495.4,123.8 L496.8,123.2 L498.2,122.7 L499.6,122.2 L501.0,121.6 L502.4,121.1 L503.9,120.6 L505.3,120.1 L506.7,119.5 L508.1,119.0 L509.5,118.5 L510.9,118.0 L512.3,117.4 L513.7,116.9 L515.1,116.4 L516.5,115.9 L517.9,115.4 L519.4,114.9 L520.8,114.5 L522.2,114.0 L523.6,113.5 L525.1,113.1 L526.5,112.7 L528.0,112.2 L529.4,111.8 L530.8,111.4 L532.3,111.0 L533.7,110.6 L535.2,110.2 L536.6,109.8 L538.1,109.4 L539.5,109.1 L541.0,108.7 L542.5,108.3 L543.9,108.0 L545.4,107.6 L546.8,107.3 L548.3,106.9 L549.8,106.6 L551.2,106.2 L552.7,105.9 L554.1,105.6 L555.6,105.3 L557.1,105.0 L558.6,104.7 L560.0,104.4 L561.5,104.1 L563.0,103.8 L564.4,103.5 L565.9,103.2 L567.4,102.9 L568.9,102.7 L570.3,102.4 L571.8,102.1 L573.3,101.9 L574.8,101.6 L576.3,101.4 L577.7,101.1 L579.2,100.9 L580.7,100.6 L582.2,100.4 L583.7,100.2 L585.2,100.0 L586.6,99.7 L588.1,99.5 L589.6,99.3 L591.1,99.1 L592.6,98.9 L594.1,98.7 L595.6,98.5 L597.1,98.4 L598.6,98.2 L600.0,98.0 L601.5,97.8 L603.0,97.7 L604.5,97.5 L606.0,97.3 L607.5,97.1 L609.0,97.0 L610.5,96.8 L612.0,96.7 L613.5,96.5 L615.0,96.3 L616.5,96.2 L618.0,96.0 L619.4,95.9 L620.9,95.7 L622.4,95.6 L623.9,95.4 L625.4,95.3 L626.9,95.1 L628.4,95.0 L629.9,94.8 L631.4,94.7 L632.9,94.6 L634.4,94.4 L635.9,94.3 L637.4,94.2 L638.9,94.0 L640.4,93.9 L641.9,93.8 L643.4,93.6 L644.9,93.5 L646.4,93.4 L647.6,93.3" fill="none" stroke="#008b8b" stroke-width="2.4" stroke-linecap="round" stroke-linejoin="round"/>
<path d="M382.0,231.5 L383.5,231.5 L385.0,231.5 L386.5,231.5 L388.0,231.5 L389.5,231.4 L391.0,231.4 L392.5,231.4 L394.0,231.4 L395.5,231.3 L397.0,231.3 L398.5,231.2 L400.0,231.2 L401.5,231.1 L403.0,231.0 L404.5,230.8 L406.0,230.6 L407.5,230.3 L408.9,230.0 L410.4,229.7 L411.8,229.2 L413.2,228.6 L414.6,228.0 L415.8,227.2 L417.1,226.4 L418.3,225.5 L419.5,224.6 L420.7,223.7 L421.8,222.7 L422.9,221.6 L423.8,220.5 L424.7,219.3 L425.6,218.0 L426.4,216.8 L427.1,215.5 L427.8,214.1 L428.5,212.8 L429.0,211.4 L429.6,210.0 L430.1,208.6 L430.6,207.1 L431.0,205.7 L431.5,204.3 L431.9,202.8 L432.3,201.4 L432.7,199.9 L433.0,198.5 L433.4,197.0 L433.7,195.6 L434.0,194.1 L434.3,192.6 L434.6,191.1 L434.9,189.7 L435.1,188.2 L435.4,186.7 L435.7,185.2 L436.0,183.8 L436.3,182.3 L436.6,180.8 L436.9,179.3 L437.2,177.9 L437.4,176.4 L437.7,174.9 L438.0,173.4 L438.3,172.0 L438.5,170.5 L438.8,169.0 L439.1,167.5 L439.3,166.1 L439.6,164.6 L439.8,163.1 L440.1,161.6 L440.3,160.1 L440.6,158.6 L440.8,157.2 L441.0,155.7 L441.3,154.2 L441.5,152.7 L441.8,151.2 L442.0,149.8 L442.3,148.3 L442.5,146.8 L442.8,145.3 L443.0,143.8 L443.2,142.3 L443.5,140.9 L443.7,139.4 L444.0,137.9 L444.3,136.4 L444.7,135.0 L445.3,133.6 L446.0,132.3 L446.9,131.1 L448.0,130.0 L449.1,129.1 L450.3,128.2 L451.6,127.4 L452.9,126.7 L454.2,125.9 L455.5,125.1 L456.7,124.3 L458.0,123.5 L459.3,122.7 L460.6,121.9 L461.8,121.2 L463.1,120.4 L464.4,119.6 L465.7,118.8 L467.0,118.0 L468.3,117.3 L469.6,116.5 L470.8,115.7 L472.1,114.9 L473.4,114.2 L474.7,113.4 L476.0,112.6 L477.3,111.8 L478.6,111.1 L479.9,110.3 L481.1,109.5 L482.4,108.8 L483.7,108.0 L485.0,107.2 L486.3,106.5 L487.6,105.7 L488.9,104.9 L490.2,104.2 L491.5,103.4 L492.8,102.6 L494.1,101.9 L495.3,101.1 L496.6,100.3 L497.9,99.5 L499.2,98.8 L500.5,98.0 L501.8,97.2 L503.1,96.4 L504.3,95.7 L505.6,94.9 L506.9,94.1 L508.2,93.3 L509.5,92.5 L510.7,91.7 L512.0,91.0 L513.3,90.2 L514.6,89.4 L515.9,88.6 L517.2,87.8 L518.4,87.1 L519.7,86.3 L521.0,85.5 L522.3,84.7 L523.6,84.0 L524.9,83.2 L526.2,82.5 L527.5,81.7 L528.8,81.0 L530.1,80.2 L531.4,79.5 L532.7,78.7 L534.0,78.0 L535.3,77.3 L536.7,76.6 L538.0,75.8 L539.3,75.1 L540.6,74.4 L541.9,73.7 L543.2,72.9 L544.6,72.2 L545.9,71.5 L547.2,70.8 L548.5,70.1 L549.9,69.4 L551.2,68.7 L552.5,68.0 L553.8,67.3 L555.2,66.6 L556.5,65.9 L557.8,65.2 L559.1,64.5 L560.5,63.8 L561.8,63.1 L563.1,62.3 L564.4,61.6 L565.8,60.9 L567.1,60.2 L568.4,59.5 L569.7,58.8 L571.1,58.1 L572.4,57.4 L573.7,56.7 L575.1,56.1 L576.4,55.4 L577.8,54.7 L579.1,54.1 L580.5,53.4 L581.8,52.8 L583.2,52.2 L584.6,51.6 L586.0,51.0 L587.4,50.4 L588.8,49.9 L590.2,49.3 L591.6,48.8 L593.0,48.3 L594.4,47.7 L595.8,47.2 L597.2,46.7 L598.6,46.2 L600.0,45.7 L601.5,45.3 L602.9,44.8 L604.3,44.3 L605.7,43.8 L607.2,43.4 L608.6,42.9 L610.0,42.4 L611.5,42.0 L612.9,41.5 L614.3,41.1 L615.7,40.6 L617.2,40.1 L618.6,39.7 L620.0,39.2 L621.5,38.8 L622.9,38.3 L624.3,37.8 L625.8,37.4 L627.2,37.0 L628.6,36.5 L630.1,36.1 L631.5,35.6 L632.9,35.2 L634.4,34.8 L635.8,34.3 L637.2,33.9 L638.7,33.5 L640.1,33.1 L641.6,32.7 L643.0,32.2 L643.5,32.1" fill="none" stroke="#b5b822" stroke-width="2.4" stroke-linecap="round" stroke-linejoin="round"/>
<path d="M382.0,231.7 L383.5,231.7 L385.0,231.7 L386.5,231.7 L388.0,231.7 L389.5,231.7 L391.0,231.7 L392.5,231.7 L394.0,231.7 L395.5,231.7 L397.0,231.7 L398.5,231.7 L400.0,231.7 L401.5,231.7 L403.0,231.7 L404.5,231.7 L406.0,231.7 L407.5,231.7 L409.0,231.7 L410.5,231.7 L412.0,231.7 L413.5,231.7 L415.0,231.7 L416.5,231.6 L418.0,231.6 L419.5,231.6 L421.0,231.6 L422.5,231.6 L424.0,231.6 L425.5,231.5 L427.0,231.2 L428.4,230.6 L429.7,229.9 L430.7,228.9 L431.6,227.7 L432.4,226.4 L432.9,225.0 L433.3,223.6 L433.6,222.1 L433.9,220.6 L434.2,219.2 L434.4,217.7 L434.7,216.2 L435.0,214.7 L435.2,213.2 L435.5,211.8 L435.7,210.3 L436.0,208.8 L436.2,207.3 L436.5,205.8 L436.7,204.3 L436.9,202.9 L437.1,201.4 L437.4,199.9 L437.6,198.4 L437.9,196.9 L438.1,195.4 L438.3,194.0 L438.6,192.5 L438.8,191.0 L439.1,189.5 L439.3,188.0 L439.5,186.6 L439.8,185.1 L440.0,183.6 L440.3,182.1 L440.6,180.6 L440.9,179.2 L441.3,177.7 L441.7,176.3 L442.1,174.8 L442.6,173.4 L443.3,172.1 L444.3,171.0 L445.5,170.2 L446.8,169.4 L448.1,168.7 L449.4,168.0 L450.8,167.3 L452.1,166.6 L453.5,166.0 L454.8,165.3 L456.2,164.7 L457.5,164.0 L458.9,163.3 L460.2,162.7 L461.6,162.0 L462.9,161.4 L464.3,160.7 L465.6,160.0 L466.9,159.3 L468.2,158.6 L469.5,157.8 L470.8,157.0 L472.0,156.2 L473.3,155.3 L474.5,154.5 L475.7,153.6 L476.9,152.7 L478.1,151.8 L479.3,150.9 L480.5,150.0 L481.7,149.1 L482.9,148.2 L484.1,147.2 L485.3,146.3 L486.5,145.4 L487.7,144.5 L488.9,143.6 L490.0,142.6 L491.2,141.7 L492.4,140.8 L493.5,139.8 L494.7,138.9 L495.9,137.9 L497.0,137.0 L498.2,136.0 L499.3,135.0 L500.4,134.0 L501.6,133.1 L502.7,132.1 L503.8,131.1 L505.0,130.1 L506.1,129.1 L507.2,128.1 L508.3,127.1 L509.4,126.0 L510.5,125.0 L511.6,124.0 L512.7,123.0 L513.8,121.9 L514.9,120.9 L516.0,119.9 L517.1,118.8 L518.1,117.8 L519.2,116.7 L520.3,115.7 L521.3,114.6 L522.4,113.6 L523.5,112.5 L524.5,111.4 L525.5,110.3 L526.6,109.2 L527.6,108.1 L528.6,107.0 L529.6,105.9 L530.6,104.8 L531.6,103.6 L532.5,102.5 L533.5,101.3 L534.5,100.2 L535.4,99.0 L536.4,97.9 L537.3,96.7 L538.3,95.5 L539.2,94.4 L540.1,93.2 L541.1,92.0 L542.0,90.8 L542.9,89.6 L543.8,88.4 L544.7,87.2 L545.6,86.0 L546.5,84.8 L547.3,83.6 L548.2,82.4 L549.1,81.1 L550.0,79.9 L550.8,78.7 L551.7,77.4 L552.5,76.2 L553.4,75.0 L554.3,73.8 L555.1,72.5 L556.0,71.3 L556.9,70.1 L557.7,68.9 L558.6,67.6 L559.5,66.4 L560.4,65.2 L561.2,64.0 L562.1,62.7 L563.0,61.5 L563.8,60.3 L564.7,59.1 L565.6,57.8 L566.4,56.6 L567.3,55.4 L568.2,54.2 L569.1,53.0 L569.9,51.7 L570.8,50.5 L571.7,49.3 L572.6,48.1 L573.5,46.9 L574.4,45.7 L575.3,44.5 L576.2,43.3 L577.1,42.1 L578.0,40.9 L578.9,39.7 L579.9,38.5 L580.8,37.3 L581.7,36.2 L582.6,35.0 L583.5,33.8 L584.4,32.6 L585.4,31.4 L586.3,30.2 L587.2,29.1 L588.2,27.9 L589.1,26.7" fill="none" stroke="#f4a460" stroke-width="2.4" stroke-linecap="round" stroke-linejoin="round"/>
<path d="M382.0,231.7 L383.5,231.7 L385.0,231.7 L386.5,231.7 L388.0,231.7 L389.5,231.7 L391.0,231.7 L392.5,231.7 L394.0,231.7 L395.5,231.7 L397.0,231.7 L398.5,231.7 L400.0,231.7 L401.5,231.7 L403.0,231.7 L404.5,231.7 L406.0,231.7 L407.5,231.7 L409.0,231.7 L410.5,231.7 L412.0,231.7 L413.5,231.7 L415.0,231.7 L416.5,231.7 L418.0,231.7 L419.5,231.7 L421.0,231.7 L422.5,231.7 L424.0,231.7 L425.5,231.6 L427.0,231.5 L428.5,231.3 L429.9,230.9 L431.2,230.2 L432.3,229.2 L433.1,228.0 L433.7,226.6 L434.2,225.2 L434.5,223.7 L434.9,222.3 L435.2,220.8 L435.5,219.3 L435.8,217.8 L436.0,216.4 L436.3,214.9 L436.5,213.4 L436.7,211.9 L436.9,210.4 L437.1,208.9 L437.3,207.4 L437.5,206.0 L437.7,204.5 L437.9,203.0 L438.1,201.5 L438.3,200.0 L438.5,198.5 L438.7,197.0 L438.9,195.5 L439.1,194.0 L439.3,192.6 L439.5,191.1 L439.7,189.6 L439.8,188.1 L440.0,186.6 L440.2,185.1 L440.4,183.6 L440.6,182.1 L440.8,180.6 L441.0,179.2 L441.2,177.7 L441.4,176.2 L441.6,174.7 L441.8,173.2 L442.1,171.7 L442.3,170.2 L442.5,168.7 L442.7,167.3 L443.0,165.8 L443.2,164.3 L443.5,162.8 L443.8,161.4 L444.2,159.9 L444.5,158.4 L445.0,157.0 L445.5,155.6 L446.1,154.2 L446.9,153.0 L448.0,151.9 L449.1,151.0 L450.3,150.1 L451.5,149.2 L452.8,148.4 L454.1,147.7 L455.4,146.9 L456.7,146.1 L458.0,145.4 L459.3,144.6 L460.6,143.8 L461.8,143.1 L463.1,142.3 L464.4,141.5 L465.7,140.8 L467.0,140.0 L468.3,139.2 L469.6,138.5 L470.9,137.7 L472.2,136.9 L473.5,136.2 L474.8,135.4 L476.1,134.6 L477.3,133.9 L478.6,133.1 L479.9,132.3 L481.2,131.5 L482.5,130.8 L483.8,130.0 L485.0,129.2 L486.3,128.4 L487.6,127.6 L488.8,126.8 L490.1,125.9 L491.4,125.1 L492.6,124.3 L493.9,123.5 L495.1,122.7 L496.4,121.9 L497.7,121.0 L498.9,120.2 L500.2,119.4 L501.5,118.7 L502.8,117.9 L504.0,117.1 L505.3,116.3 L506.6,115.6 L507.9,114.8 L509.2,114.0 L510.5,113.2 L511.7,112.4 L513.0,111.5 L514.2,110.7 L515.4,109.8 L516.6,108.9 L517.8,108.0 L519.0,107.0 L520.1,106.1 L521.2,105.1 L522.3,104.1 L523.5,103.0 L524.6,102.0 L525.7,101.0 L526.8,100.0 L527.9,99.0 L529.0,98.0 L530.1,97.0 L531.3,96.0 L532.4,95.0 L533.5,94.0 L534.6,93.0 L535.7,92.0 L536.8,91.0 L537.9,90.0 L539.0,88.9 L540.2,87.9 L541.3,86.9 L542.4,85.9 L543.5,84.9 L544.6,83.9 L545.7,82.9 L546.8,81.9 L548.0,80.9 L549.1,79.9 L550.2,78.9 L551.3,77.9 L552.4,76.9 L553.5,75.9 L554.7,74.9 L555.8,73.9 L557.0,72.9 L558.1,72.0 L559.3,71.0 L560.4,70.1 L561.6,69.1 L562.8,68.2 L563.9,67.3 L565.1,66.3 L566.3,65.4 L567.5,64.5 L568.7,63.5 L569.8,62.6 L571.0,61.7 L572.2,60.7 L573.3,59.8 L574.5,58.8 L575.7,57.9 L576.8,56.9 L578.0,55.9 L579.1,55.0 L580.3,54.0 L581.4,53.1 L582.6,52.1 L583.8,51.2 L585.0,50.3 L586.3,49.5 L587.5,48.6 L588.7,47.8 L590.0,47.0 L591.3,46.2 L592.6,45.4 L593.9,44.6 L595.1,43.9 L596.4,43.1 L597.8,42.4 L599.1,41.7 L600.4,40.9 L601.7,40.2 L603.0,39.5 L604.4,38.8 L605.7,38.1 L607.0,37.4 L608.4,36.8 L609.7,36.1 L611.1,35.4 L612.4,34.8 L613.8,34.2 L615.1,33.5 L616.5,32.9 L617.9,32.3 L619.2,31.7 L620.6,31.1 L622.0,30.5 L623.4,29.9 L624.8,29.3 L626.2,28.8 L627.1,28.4" fill="none" stroke="#4b0b5f" stroke-width="2.4" stroke-linecap="round" stroke-linejoin="round"/>
<path d="M410,228.6 L531,205" stroke="#4a4a4a" stroke-width="0.95" stroke-dasharray="5,2,1,2" fill="none"/>
<path d="M533.5,204.5 l-5.5,-0.8 l0.8,3.4 z" fill="#555"/>
<path d="M387.3,15.1H413.6" stroke="#008b8b" stroke-width="4.2" stroke-linecap="round"/>
<text x="417.5" y="19.0" font-size="11.3">Cell 1 , 24.5 GPa</text>
<path d="M387.3,29.8H413.6" stroke="#b5b822" stroke-width="4.2" stroke-linecap="round"/>
<text x="417.5" y="33.7" font-size="11.3">Cell 2 , 23 GPa</text>
<path d="M387.3,44.5H413.6" stroke="#f4a460" stroke-width="4.2" stroke-linecap="round"/>
<text x="417.5" y="48.4" font-size="11.3">Cell 3, 20.5 GPa</text>
<path d="M387.3,59.2H413.6" stroke="#4b0b5f" stroke-width="4.2" stroke-linecap="round"/>
<text x="417.5" y="63.1" font-size="11.3">Cell 4, 20 GPa</text>
<text x="448.8" y="97.1" font-size="11.3" style="fill:#b5b822;white-space:pre"><tspan class="it">T</tspan><tspan class="it" font-size="7.3" dy="2.2">c</tspan><tspan dy="-2.2"> = 72 K</tspan></text>
<text x="558.6" y="94.7" font-size="11.3" style="fill:#008b8b;white-space:pre"><tspan class="it">T</tspan><tspan class="it" font-size="7.3" dy="2.2">c</tspan><tspan dy="-2.2"> =  70 K</tspan></text>
<text x="473" y="151.7" font-size="11.3" style="fill:#4b0b5f;white-space:pre"><tspan class="it">T</tspan><tspan class="it" font-size="7.3" dy="2.2">c</tspan><tspan dy="-2.2"> =  72 K</tspan></text>
<text x="448" y="179.6" font-size="11.3" style="fill:#f4a460;white-space:pre"><tspan class="it">T</tspan><tspan class="it" font-size="7.3" dy="2.2">c</tspan><tspan dy="-2.2"> =  70 K</tspan></text>
<text x="533.8" y="258" text-anchor="middle" font-size="13.5">Temperature (K)</text>
<text transform="translate(357.8,117.8) rotate(-90)" text-anchor="middle" font-size="13.5">Resistance (Ω)</text>
<rect x="559.5" y="129.5" width="107.0" height="79.0" fill="#fff"/>
<rect x="559.5" y="129.5" width="107.0" height="79.0" fill="none" stroke="#000" stroke-width="1.0"/>
<path d="M559.5,208.5v2.2M574.8,208.5v2.2M590.1,208.5v2.2M605.4,208.5v2.2M620.6,208.5v2.2M635.9,208.5v2.2M651.2,208.5v2.2M666.5,208.5v2.2M567.1,208.5v1.2M582.4,208.5v1.2M597.7,208.5v1.2M613.0,208.5v1.2M628.3,208.5v1.2M643.6,208.5v1.2M658.9,208.5v1.2M559.5,208.5h-2.2M559.5,192.7h-2.2M559.5,176.9h-2.2M559.5,161.1h-2.2M559.5,145.3h-2.2M559.5,129.5h-2.2M559.5,200.6h-1.2M559.5,184.8h-1.2M559.5,169.0h-1.2M559.5,153.2h-1.2M559.5,137.4h-1.2" stroke="#000" stroke-width="1.0" fill="none"/>
<text x="559.5" y="217.1" text-anchor="middle" font-size="7.1">0</text>
<text x="574.8" y="217.1" text-anchor="middle" font-size="7.1">5</text>
<text x="590.1" y="217.1" text-anchor="middle" font-size="7.1">10</text>
<text x="605.4" y="217.1" text-anchor="middle" font-size="7.1">15</text>
<text x="620.6" y="217.1" text-anchor="middle" font-size="7.1">20</text>
<text x="635.9" y="217.1" text-anchor="middle" font-size="7.1">25</text>
<text x="651.2" y="217.1" text-anchor="middle" font-size="7.1">30</text>
<text x="666.5" y="217.1" text-anchor="middle" font-size="7.1">35</text>
<text x="556.5" y="210.4" text-anchor="end" font-size="6.92">0.00</text>
<text x="556.5" y="194.6" text-anchor="end" font-size="6.92">0.02</text>
<text x="556.5" y="178.8" text-anchor="end" font-size="6.92">0.04</text>
<text x="556.5" y="163.0" text-anchor="end" font-size="6.92">0.06</text>
<text x="556.5" y="147.2" text-anchor="end" font-size="6.92">0.08</text>
<text x="556.5" y="131.4" text-anchor="end" font-size="6.92">0.10</text>
<clipPath id="icl"><rect x="559.5" y="128.5" width="107.5" height="82.0"/></clipPath>
<g clip-path="url(#icl)">
<path d="M568.8,208.2 L569.8,208.1 L570.8,208.1 L571.8,208.0 L572.8,207.9 L573.8,207.8 L574.8,207.6 L575.8,207.5 L576.8,207.3 L577.8,207.1 L578.7,206.9 L579.7,206.7 L580.7,206.4 L581.7,206.2 L582.6,205.9 L583.6,205.7 L584.6,205.5 L585.5,205.2 L586.5,205.0 L587.5,204.7 L588.5,204.4 L589.4,204.2 L590.4,203.9 L591.3,203.6 L592.3,203.3 L593.3,203.0 L594.2,202.7 L595.2,202.4 L596.1,202.1 L597.1,201.7 L598.0,201.4 L598.9,201.0 L599.8,200.6 L600.8,200.2 L601.7,199.8 L602.6,199.3 L603.5,198.9 L604.3,198.4 L605.2,197.9 L606.1,197.4 L606.9,196.9 L607.8,196.3 L608.6,195.8 L609.5,195.2 L610.3,194.7 L611.1,194.1 L611.9,193.5 L612.7,192.9 L613.5,192.3 L614.3,191.7 L615.1,191.0 L615.8,190.3 L616.5,189.7 L617.3,189.0 L618.0,188.2 L618.7,187.5 L619.3,186.8 L620.0,186.0 L620.7,185.3 L621.3,184.5 L621.9,183.7 L622.6,182.9 L623.2,182.1 L623.8,181.4 L624.4,180.6 L625.0,179.7 L625.6,178.9 L626.2,178.1 L626.8,177.3 L627.3,176.5 L627.9,175.7 L628.5,174.8 L629.0,174.0 L629.6,173.2 L630.2,172.4 L630.7,171.5 L631.2,170.7 L631.8,169.8 L632.3,169.0 L632.8,168.1 L633.3,167.2 L633.8,166.3 L634.3,165.5 L634.8,164.6 L635.2,163.7 L635.7,162.8 L636.1,161.9 L636.6,161.0 L637.0,160.1 L637.5,159.2 L637.9,158.3 L638.3,157.4 L638.7,156.5 L639.1,155.6 L639.5,154.6 L639.9,153.7 L640.3,152.8 L640.7,151.9 L641.0,150.9 L641.4,150.0 L641.7,149.0 L642.1,148.1 L642.4,147.2 L642.7,146.2 L643.1,145.3 L643.4,144.3 L643.7,143.4 L644.0,142.4 L644.3,141.5 L644.7,140.5 L645.0,139.6 L645.3,138.6 L645.6,137.7 L645.9,136.7 L646.2,135.7 L646.6,134.8 L646.9,133.8 L647.2,132.9 L647.5,131.9 L647.8,131.0 L648.1,130.0 L648.5,129.1 L648.8,128.1 L649.1,127.2 L649.4,126.2 L649.5,126.0" fill="none" stroke="#b5b822" stroke-width="2" stroke-linecap="round"/>
<path d="M568.8,208.3 L569.8,208.3 L570.8,208.3 L571.8,208.3 L572.8,208.3 L573.8,208.3 L574.8,208.3 L575.8,208.3 L576.8,208.3 L577.8,208.3 L578.8,208.3 L579.8,208.3 L580.8,208.3 L581.8,208.3 L582.8,208.3 L583.8,208.3 L584.9,208.3 L585.9,208.3 L586.9,208.3 L587.9,208.3 L588.9,208.3 L589.9,208.3 L590.9,208.3 L591.9,208.3 L592.9,208.3 L593.9,208.3 L594.9,208.3 L595.9,208.3 L596.9,208.3 L597.9,208.3 L598.9,208.3 L599.9,208.3 L600.9,208.3 L601.9,208.3 L602.9,208.3 L603.9,208.3 L604.9,208.2 L605.9,208.2 L606.9,208.2 L607.9,208.2 L608.9,208.2 L609.9,208.2 L610.9,208.2 L611.9,208.2 L612.9,208.2 L613.9,208.2 L615.0,208.2 L615.9,208.1 L616.9,207.9 L617.9,207.6 L618.9,207.4 L619.8,207.1 L620.8,206.9 L621.8,206.6 L622.8,206.4 L623.7,206.1 L624.7,205.8 L625.7,205.6 L626.6,205.3 L627.6,205.0 L628.5,204.7 L629.5,204.3 L630.4,204.0 L631.4,203.7 L632.3,203.3 L633.3,203.0 L634.2,202.7 L635.1,202.3 L636.1,201.9 L637.0,201.5 L637.9,201.1 L638.8,200.7 L639.7,200.3 L640.6,199.8 L641.5,199.3 L642.4,198.8 L643.2,198.3 L644.1,197.8 L644.9,197.2 L645.7,196.6 L646.4,195.9 L647.2,195.2 L647.9,194.5 L648.6,193.8 L649.3,193.1 L650.0,192.3 L650.6,191.6 L651.3,190.9 L652.0,190.1 L652.6,189.3 L653.3,188.6 L653.9,187.8 L654.6,187.1 L655.3,186.3 L655.9,185.6 L656.6,184.8 L657.2,184.0 L657.9,183.3 L658.5,182.5 L659.1,181.7 L659.7,180.9 L660.4,180.1 L661.0,179.3 L661.6,178.5 L662.2,177.7 L662.8,176.9 L663.4,176.1 L664.0,175.3 L664.6,174.5 L665.1,173.7 L665.7,172.9 L666.3,172.0 L666.9,171.2 L667.0,171.0" fill="none" stroke="#008b8b" stroke-width="2" stroke-linecap="round"/>
<path d="M568.8,208.5 L569.8,208.5 L570.8,208.5 L571.8,208.5 L572.8,208.5 L573.8,208.5 L574.8,208.5 L575.8,208.5 L576.8,208.5 L577.8,208.5 L578.8,208.5 L579.8,208.5 L580.8,208.5 L581.8,208.5 L582.9,208.5 L583.9,208.5 L584.9,208.5 L585.9,208.5 L586.9,208.5 L587.9,208.5 L588.9,208.5 L589.9,208.5 L590.9,208.5 L591.9,208.5 L592.9,208.5 L593.9,208.5 L594.9,208.5 L595.9,208.5 L596.9,208.5 L597.9,208.5 L598.9,208.5 L599.9,208.5 L600.9,208.5 L601.9,208.5 L602.9,208.5 L603.9,208.5 L604.9,208.5 L605.9,208.5 L606.9,208.5 L607.9,208.5 L608.9,208.5 L609.9,208.5 L611.0,208.5 L612.0,208.5 L613.0,208.5 L614.0,208.5 L615.0,208.5 L616.0,208.5 L617.0,208.5 L618.0,208.5 L619.0,208.5 L620.0,208.5 L621.0,208.5 L622.0,208.5 L623.0,208.5 L624.0,208.5 L625.0,208.5 L626.0,208.5 L627.0,208.5 L628.0,208.5 L629.0,208.5 L630.0,208.5 L631.0,208.5 L632.0,208.5 L633.0,208.5 L634.0,208.5 L635.0,208.5 L636.0,208.5 L637.0,208.5 L638.1,208.5 L639.1,208.5 L640.1,208.4 L641.1,208.4 L642.1,208.4 L643.1,208.4 L644.1,208.4 L645.1,208.4 L646.1,208.4 L647.1,208.4 L648.1,208.4 L649.1,208.4 L650.1,208.4 L651.1,208.4 L652.1,208.4 L653.1,208.4 L654.1,208.4 L655.1,208.4 L656.1,208.4 L657.1,208.4 L658.1,208.4 L659.1,208.4 L660.1,208.4 L661.1,208.3 L662.1,208.2 L663.1,208.0 L664.1,207.7 L665.1,207.5 L666.0,207.2 L667.0,207.0" fill="none" stroke="#f4a460" stroke-width="2" stroke-linecap="round"/>
<path d="M568.8,208.4 L569.8,208.4 L570.8,208.4 L571.8,208.4 L572.8,208.4 L573.8,208.4 L574.8,208.4 L575.8,208.4 L576.8,208.4 L577.8,208.4 L578.8,208.4 L579.8,208.4 L580.8,208.4 L581.9,208.4 L582.9,208.4 L583.9,208.4 L584.9,208.4 L585.9,208.4 L586.9,208.4 L587.9,208.4 L588.9,208.4 L589.9,208.4 L590.9,208.4 L591.9,208.4 L592.9,208.4 L593.9,208.4 L594.9,208.4 L595.9,208.4 L596.9,208.4 L597.9,208.4 L598.9,208.4 L599.9,208.4 L600.9,208.4 L601.9,208.4 L602.9,208.4 L603.9,208.4 L604.9,208.4 L605.9,208.4 L607.0,208.4 L608.0,208.4 L609.0,208.4 L610.0,208.4 L611.0,208.4 L612.0,208.4 L613.0,208.4 L614.0,208.4 L615.0,208.4 L616.0,208.4 L617.0,208.4 L618.0,208.4 L619.0,208.4 L620.0,208.4 L621.0,208.4 L622.0,208.4 L623.0,208.4 L624.0,208.4 L625.0,208.4 L626.0,208.4 L627.0,208.4 L628.0,208.4 L629.0,208.4 L630.0,208.4 L631.0,208.4 L632.1,208.4 L633.1,208.4 L634.1,208.4 L635.1,208.4 L636.1,208.3 L637.1,208.3 L638.1,208.3 L639.1,208.3 L640.1,208.3 L641.1,208.3 L642.1,208.3 L643.1,208.3 L644.1,208.3 L645.1,208.3 L646.1,208.3 L647.1,208.3 L648.1,208.3 L649.1,208.3 L650.1,208.3 L651.1,208.3 L652.1,208.3 L653.1,208.3 L654.1,208.3 L655.1,208.3 L656.1,208.2 L657.1,208.1 L658.1,208.0 L659.1,207.8 L660.1,207.6 L661.1,207.4 L662.1,207.1 L663.0,206.8 L664.0,206.5 L664.9,206.2 L665.8,205.8 L666.8,205.4 L667.0,205.3" fill="none" stroke="#4b0b5f" stroke-width="2" stroke-linecap="round"/>
</g>
<text x="617.3" y="223.6" text-anchor="middle" font-size="9.2">Temperature (K)</text>
<text transform="translate(541,167.7) rotate(-90)" text-anchor="middle" font-size="9.15">Resistance (Ω)</text>
</g>
<g id="panel-c">
<rect x="30.8" y="271.1" width="297.2" height="227.39999999999998" fill="none" stroke="#000" stroke-width="1.8"/>
<path d="M30.8,498.5v4.7M85.0,498.5v4.7M139.2,498.5v4.7M193.4,498.5v4.7M247.6,498.5v4.7M301.8,498.5v4.7M57.9,498.5v2.6M112.1,498.5v2.6M166.3,498.5v2.6M220.5,498.5v2.6M274.7,498.5v2.6M328.9,498.5v2.6M30.8,498.5h-4.7M30.8,441.6h-4.7M30.8,384.8h-4.7M30.8,328.0h-4.7M30.8,271.1h-4.7M30.8,470.1h-2.6M30.8,413.2h-2.6M30.8,356.4h-2.6M30.8,299.5h-2.6" stroke="#000" stroke-width="1.8" fill="none"/>
<text x="30.8" y="513.1" text-anchor="middle" font-size="9.4">0</text>
<text x="85.0" y="513.1" text-anchor="middle" font-size="9.4">20</text>
<text x="139.2" y="513.1" text-anchor="middle" font-size="9.4">40</text>
<text x="193.4" y="513.1" text-anchor="middle" font-size="9.4">60</text>
<text x="247.6" y="513.1" text-anchor="middle" font-size="9.4">80</text>
<text x="301.8" y="513.1" text-anchor="middle" font-size="9.4">100</text>
<text x="23.2" y="501.0" text-anchor="end" font-size="9.17">0</text>
<text x="23.2" y="444.2" text-anchor="end" font-size="9.17">2</text>
<text x="23.2" y="387.3" text-anchor="end" font-size="9.17">4</text>
<text x="23.2" y="330.5" text-anchor="end" font-size="9.17">6</text>
<text x="23.2" y="273.6" text-anchor="end" font-size="9.17">8</text>
<circle cx="304.9" cy="303.5" r="1.5" fill="#8fd3f7"/>
<path d="M41.7,497.9 L43.2,497.9 L44.7,497.9 L46.2,497.9 L47.7,497.8 L49.2,497.8 L50.7,497.8 L52.2,497.8 L53.7,497.8 L55.2,497.8 L56.7,497.7 L58.2,497.7 L59.7,497.7 L61.2,497.7 L62.7,497.7 L64.2,497.6 L65.7,497.6 L67.2,497.6 L68.7,497.6 L70.2,497.6 L71.7,497.5 L73.2,497.5 L74.7,497.5 L76.2,497.5 L77.7,497.4 L79.2,497.4 L80.7,497.4 L82.2,497.4 L83.7,497.3 L85.2,497.3 L86.7,497.3 L88.2,497.3 L89.7,497.2 L91.2,497.2 L92.7,497.2 L94.2,497.2 L95.7,497.1 L97.2,497.1 L98.7,497.1 L100.3,497.1 L101.8,497.0 L103.3,497.0 L104.8,497.0 L106.3,497.0 L107.8,496.9 L109.3,496.9 L110.8,496.9 L112.3,496.9 L113.8,496.8 L115.3,496.8 L116.8,496.8 L118.3,496.8 L119.8,496.7 L121.3,496.7 L122.8,496.6 L124.3,496.6 L125.8,496.5 L127.3,496.5 L128.8,496.4 L130.3,496.3 L131.8,496.2 L133.3,496.1 L134.8,496.0 L136.3,495.9 L137.8,495.7 L139.2,495.6 L140.7,495.5 L142.2,495.3 L143.7,495.2 L145.2,495.0 L146.7,494.8 L148.2,494.7 L149.7,494.5 L151.2,494.3 L152.7,494.1 L154.2,494.0 L155.7,493.8 L157.2,493.6 L158.6,493.4 L160.1,493.2 L161.6,493.0 L163.1,492.8 L164.6,492.6 L166.1,492.4 L167.6,492.1 L169.0,491.9 L170.5,491.6 L172.0,491.3 L173.4,490.9 L174.9,490.6 L176.3,490.2 L177.8,489.7 L179.1,489.2 L180.5,488.6 L181.8,487.8 L183.1,487.1 L184.3,486.2 L185.5,485.3 L186.6,484.3 L187.7,483.3 L188.8,482.3 L189.8,481.2 L190.8,480.1 L191.7,478.9 L192.6,477.6 L193.4,476.4 L194.1,475.1 L194.8,473.8 L195.5,472.4 L196.1,471.0 L196.6,469.7 L197.2,468.3 L197.7,466.8 L198.2,465.4 L198.6,464.0 L199.1,462.6 L199.5,461.1 L199.9,459.7 L200.3,458.2 L200.6,456.8 L201.0,455.3 L201.3,453.8 L201.6,452.4 L201.9,450.9 L202.2,449.4 L202.5,448.0 L202.9,446.5 L203.3,445.1 L203.7,443.6 L204.1,442.2 L204.6,440.8 L205.0,439.3 L205.4,437.9 L205.7,436.4 L206.0,434.9 L206.3,433.5 L206.6,432.0 L206.9,430.5 L207.2,429.0 L207.5,427.6 L207.8,426.1 L208.0,424.6 L208.3,423.1 L208.6,421.7 L208.8,420.2 L209.1,418.7 L209.3,417.2 L209.6,415.7 L209.8,414.3 L210.1,412.8 L210.3,411.3 L210.5,409.8 L210.7,408.3 L210.9,406.8 L211.1,405.3 L211.3,403.9 L211.5,402.4 L211.7,400.9 L212.0,399.4 L212.2,397.9 L212.4,396.4 L212.6,394.9 L212.9,393.5 L213.1,392.0 L213.4,390.5 L213.6,389.0 L213.9,387.6 L214.2,386.1 L214.5,384.6 L214.8,383.1 L215.1,381.7 L215.5,380.2 L215.8,378.7 L216.1,377.3 L216.4,375.8 L216.8,374.3 L217.1,372.9 L217.5,371.4 L217.8,370.0 L218.2,368.5 L218.6,367.1 L218.9,365.6 L219.3,364.1 L219.7,362.7 L220.0,361.2 L220.4,359.8 L220.7,358.3 L221.1,356.9 L221.5,355.4 L221.8,353.9 L222.2,352.5 L222.6,351.0 L222.9,349.6 L223.3,348.1 L223.7,346.7 L224.1,345.2 L224.6,343.8 L225.0,342.4 L225.4,340.9 L225.9,339.5 L226.4,338.1 L226.9,336.6 L227.4,335.2 L227.9,333.8 L228.5,332.4 L229.1,331.1 L229.7,329.7 L230.3,328.4 L231.0,327.0 L231.7,325.7 L232.5,324.4 L233.4,323.2 L234.3,322.1 L235.4,321.1 L236.5,320.2 L237.8,319.3 L239.0,318.6 L240.4,317.9 L241.8,317.4 L243.2,316.8 L244.6,316.4 L246.0,315.9 L247.4,315.5 L248.9,315.0 L250.3,314.6 L251.8,314.2 L253.2,313.9 L254.7,313.6 L256.2,313.3 L257.7,313.0 L259.1,312.7 L260.6,312.4 L262.1,312.1 L263.5,311.8 L265.0,311.5 L266.5,311.2 L268.0,311.0 L269.4,310.7 L270.9,310.4 L272.4,310.1 L273.9,309.8 L275.3,309.5 L276.8,309.2 L278.3,308.9 L279.7,308.6 L281.2,308.3 L282.7,308.1 L284.2,307.8 L285.6,307.5 L287.1,307.2 L288.6,306.9 L290.1,306.6 L291.5,306.3 L293.0,306.0 L294.5,305.7 L296.0,305.4 L297.4,305.2 L298.9,304.9 L300.4,304.6 L301.8,304.3 L303.3,304.0 L304.3,303.8" fill="none" stroke="#7b0fa8" stroke-width="2.35" stroke-linecap="round" stroke-linejoin="round"/>
<path d="M41.7,497.6 L43.2,497.6 L44.7,497.6 L46.2,497.5 L47.7,497.5 L49.2,497.5 L50.7,497.5 L52.2,497.5 L53.7,497.4 L55.2,497.4 L56.7,497.4 L58.2,497.3 L59.7,497.3 L61.2,497.3 L62.7,497.2 L64.2,497.2 L65.7,497.2 L67.2,497.1 L68.7,497.1 L70.2,497.1 L71.7,497.0 L73.2,497.0 L74.7,497.0 L76.2,496.9 L77.7,496.9 L79.2,496.8 L80.7,496.8 L82.2,496.7 L83.7,496.7 L85.2,496.7 L86.7,496.6 L88.2,496.6 L89.7,496.5 L91.2,496.5 L92.8,496.4 L94.3,496.4 L95.8,496.3 L97.3,496.3 L98.8,496.2 L100.3,496.2 L101.8,496.1 L103.3,496.1 L104.8,496.0 L106.3,496.0 L107.8,495.9 L109.3,495.8 L110.8,495.7 L112.3,495.7 L113.8,495.6 L115.3,495.5 L116.8,495.4 L118.3,495.3 L119.8,495.1 L121.2,495.0 L122.7,494.9 L124.2,494.8 L125.7,494.6 L127.2,494.5 L128.7,494.3 L130.2,494.1 L131.7,494.0 L133.2,493.8 L134.7,493.6 L136.2,493.4 L137.7,493.2 L139.2,493.0 L140.6,492.7 L142.1,492.5 L143.6,492.3 L145.1,492.0 L146.6,491.7 L148.0,491.5 L149.5,491.2 L151.0,490.9 L152.4,490.5 L153.9,490.2 L155.4,489.8 L156.8,489.4 L158.2,489.0 L159.6,488.4 L161.0,487.8 L162.3,487.2 L163.6,486.4 L164.9,485.6 L166.1,484.8 L167.3,483.9 L168.4,482.9 L169.5,481.8 L170.5,480.7 L171.5,479.6 L172.4,478.5 L173.4,477.3 L174.4,476.2 L175.4,475.0 L176.3,473.9 L177.3,472.7 L178.2,471.6 L179.1,470.4 L180.0,469.2 L180.9,467.9 L181.7,466.7 L182.5,465.4 L183.3,464.2 L184.1,462.9 L184.9,461.6 L185.6,460.3 L186.3,459.0 L187.1,457.7 L187.8,456.3 L188.6,455.0 L189.3,453.7 L190.0,452.4 L190.7,451.1 L191.4,449.8 L192.1,448.4 L192.8,447.1 L193.5,445.8 L194.1,444.4 L194.8,443.0 L195.3,441.7 L195.9,440.3 L196.4,438.8 L196.8,437.4 L197.3,436.0 L197.6,434.5 L198.0,433.1 L198.4,431.6 L198.8,430.2 L199.2,428.7 L199.6,427.3 L199.9,425.8 L200.3,424.4 L200.7,422.9 L201.1,421.5 L201.5,420.0 L201.9,418.6 L202.3,417.1 L202.7,415.7 L203.1,414.2 L203.5,412.8 L203.9,411.3 L204.2,409.9 L204.6,408.4 L204.9,406.9 L205.3,405.5 L205.7,404.0 L206.0,402.6 L206.4,401.1 L206.7,399.6 L207.1,398.2 L207.5,396.7 L207.8,395.3 L208.2,393.8 L208.6,392.4 L209.0,390.9 L209.4,389.5 L209.8,388.0 L210.2,386.6 L210.6,385.1 L211.0,383.7 L211.4,382.2 L211.8,380.8 L212.2,379.4 L212.7,377.9 L213.1,376.5 L213.5,375.0 L214.0,373.6 L214.4,372.2 L214.8,370.7 L215.3,369.3 L215.7,367.8 L216.1,366.4 L216.6,365.0 L217.0,363.5 L217.4,362.1 L217.9,360.7 L218.3,359.2 L218.7,357.8 L219.1,356.3 L219.6,354.9 L220.0,353.5 L220.4,352.0 L220.8,350.6 L221.3,349.1 L221.7,347.7 L222.2,346.3 L222.6,344.8 L223.1,343.4 L223.6,342.0 L224.1,340.6 L224.6,339.2 L225.1,337.8 L225.7,336.4 L226.2,335.0 L226.8,333.6 L227.3,332.2 L227.9,330.8 L228.5,329.4 L229.2,328.1 L229.9,326.7 L230.6,325.5 L231.5,324.3 L232.4,323.1 L233.5,322.1 L234.6,321.1 L235.7,320.1 L237.0,319.3 L238.3,318.6 L239.6,317.9 L241.0,317.3 L242.3,316.7 L243.8,316.2 L245.2,315.8 L246.6,315.3 L248.1,315.0 L249.5,314.6 L251.0,314.3 L252.5,314.0 L254.0,313.7 L255.4,313.4 L256.9,313.1 L258.4,312.8 L259.8,312.6 L261.3,312.3 L262.8,312.0 L264.3,311.7 L265.7,311.4 L267.2,311.1 L268.7,310.8 L270.2,310.5 L271.6,310.2 L273.1,309.9 L274.6,309.7 L276.1,309.4 L277.5,309.1 L279.0,308.8 L280.5,308.5 L282.0,308.2 L283.4,307.9 L284.9,307.6 L286.4,307.3 L287.8,307.0 L289.3,306.8 L290.8,306.5 L292.3,306.2 L293.7,305.9 L295.2,305.6 L296.7,305.3 L298.2,305.0 L299.6,304.7 L301.1,304.4 L302.6,304.1 L304.1,303.8 L304.3,303.8" fill="none" stroke="#1177c0" stroke-width="2.35" stroke-linecap="round" stroke-linejoin="round"/>
<path d="M41.7,497.4 L43.2,497.4 L44.7,497.3 L46.2,497.3 L47.7,497.2 L49.2,497.2 L50.7,497.1 L52.2,497.1 L53.7,497.0 L55.2,497.0 L56.7,496.9 L58.2,496.9 L59.7,496.8 L61.2,496.8 L62.7,496.7 L64.2,496.7 L65.7,496.6 L67.2,496.6 L68.7,496.5 L70.2,496.4 L71.7,496.4 L73.2,496.3 L74.7,496.3 L76.2,496.2 L77.7,496.2 L79.2,496.1 L80.7,496.0 L82.2,496.0 L83.7,495.9 L85.2,495.8 L86.7,495.8 L88.2,495.7 L89.7,495.7 L91.2,495.6 L92.7,495.5 L94.2,495.5 L95.7,495.4 L97.2,495.3 L98.7,495.3 L100.2,495.2 L101.7,495.1 L103.2,495.1 L104.7,495.0 L106.2,494.9 L107.7,494.8 L109.2,494.7 L110.7,494.6 L112.2,494.5 L113.7,494.4 L115.2,494.3 L116.7,494.2 L118.2,494.0 L119.7,493.9 L121.2,493.7 L122.6,493.6 L124.1,493.4 L125.6,493.2 L127.1,493.0 L128.6,492.8 L130.1,492.6 L131.6,492.4 L133.1,492.2 L134.5,491.9 L136.0,491.7 L137.5,491.4 L139.0,491.2 L140.4,490.9 L141.9,490.6 L143.4,490.3 L144.9,489.9 L146.3,489.6 L147.7,489.2 L149.2,488.7 L150.6,488.2 L152.0,487.7 L153.4,487.1 L154.7,486.4 L156.0,485.7 L157.4,485.0 L158.6,484.3 L159.9,483.4 L161.1,482.6 L162.3,481.6 L163.4,480.6 L164.5,479.6 L165.6,478.6 L166.6,477.5 L167.6,476.4 L168.6,475.3 L169.6,474.1 L170.5,473.0 L171.5,471.8 L172.4,470.6 L173.3,469.4 L174.2,468.2 L175.1,467.0 L176.0,465.8 L176.9,464.6 L177.7,463.4 L178.6,462.1 L179.5,460.9 L180.3,459.7 L181.2,458.4 L182.0,457.2 L182.8,455.9 L183.6,454.7 L184.4,453.4 L185.2,452.1 L186.0,450.9 L186.8,449.6 L187.6,448.3 L188.4,447.0 L189.2,445.7 L189.9,444.5 L190.7,443.2 L191.4,441.8 L192.1,440.5 L192.7,439.2 L193.3,437.8 L193.8,436.4 L194.3,434.9 L194.7,433.5 L195.2,432.1 L195.6,430.7 L196.1,429.2 L196.5,427.8 L197.0,426.3 L197.4,424.9 L197.9,423.5 L198.3,422.0 L198.7,420.6 L199.2,419.2 L199.6,417.7 L200.0,416.3 L200.4,414.8 L200.8,413.4 L201.2,412.0 L201.6,410.5 L202.0,409.1 L202.4,407.6 L202.8,406.2 L203.2,404.7 L203.5,403.2 L203.9,401.8 L204.3,400.3 L204.7,398.9 L205.0,397.4 L205.4,396.0 L205.8,394.5 L206.2,393.1 L206.6,391.6 L207.0,390.2 L207.4,388.7 L207.8,387.3 L208.2,385.8 L208.6,384.4 L209.0,383.0 L209.4,381.5 L209.8,380.1 L210.2,378.6 L210.6,377.2 L211.0,375.7 L211.4,374.3 L211.9,372.9 L212.3,371.4 L212.7,370.0 L213.1,368.5 L213.5,367.1 L214.0,365.6 L214.4,364.2 L214.8,362.8 L215.3,361.3 L215.7,359.9 L216.1,358.5 L216.5,357.0 L217.0,355.6 L217.4,354.1 L217.9,352.7 L218.3,351.3 L218.8,349.8 L219.2,348.4 L219.7,347.0 L220.2,345.6 L220.6,344.1 L221.1,342.7 L221.6,341.3 L222.2,339.9 L222.7,338.5 L223.3,337.1 L223.8,335.7 L224.4,334.3 L225.0,333.0 L225.6,331.6 L226.3,330.2 L227.0,328.9 L227.7,327.6 L228.5,326.3 L229.3,325.1 L230.2,324.0 L231.2,322.9 L232.3,321.8 L233.5,320.9 L234.7,320.0 L235.9,319.2 L237.2,318.5 L238.6,317.9 L240.0,317.3 L241.4,316.8 L242.8,316.3 L244.2,315.9 L245.7,315.5 L247.1,315.1 L248.6,314.8 L250.1,314.5 L251.5,314.2 L253.0,313.9 L254.5,313.6 L255.9,313.3 L257.4,313.0 L258.9,312.7 L260.4,312.5 L261.8,312.2 L263.3,311.9 L264.8,311.6 L266.3,311.3 L267.7,311.0 L269.2,310.7 L270.7,310.4 L272.1,310.1 L273.6,309.8 L275.1,309.6 L276.6,309.3 L278.0,309.0 L279.5,308.7 L281.0,308.4 L282.5,308.1 L283.9,307.8 L285.4,307.5 L286.9,307.2 L288.3,306.9 L289.8,306.7 L291.3,306.4 L292.8,306.1 L294.2,305.8 L295.7,305.5 L297.2,305.2 L298.7,304.9 L300.1,304.6 L301.6,304.3 L303.1,304.0 L304.3,303.8" fill="none" stroke="#8fd3f7" stroke-width="2.35" stroke-linecap="round" stroke-linejoin="round"/>
<path d="M41.7,497.2 L43.2,497.1 L44.7,497.1 L46.2,497.0 L47.7,496.9 L49.2,496.9 L50.7,496.8 L52.2,496.7 L53.7,496.7 L55.2,496.6 L56.7,496.5 L58.2,496.4 L59.7,496.4 L61.2,496.3 L62.7,496.2 L64.2,496.1 L65.7,496.0 L67.2,496.0 L68.7,495.9 L70.2,495.8 L71.7,495.7 L73.2,495.6 L74.7,495.5 L76.2,495.5 L77.7,495.4 L79.2,495.3 L80.7,495.2 L82.2,495.1 L83.7,495.0 L85.2,494.9 L86.7,494.8 L88.2,494.7 L89.7,494.6 L91.2,494.6 L92.7,494.5 L94.2,494.4 L95.7,494.3 L97.2,494.2 L98.7,494.1 L100.2,494.0 L101.7,493.9 L103.1,493.8 L104.6,493.7 L106.1,493.6 L107.6,493.5 L109.1,493.4 L110.6,493.2 L112.1,493.1 L113.6,492.9 L115.1,492.8 L116.6,492.6 L118.1,492.4 L119.6,492.2 L121.1,492.0 L122.6,491.8 L124.0,491.6 L125.5,491.4 L127.0,491.1 L128.5,490.9 L130.0,490.6 L131.4,490.3 L132.9,490.0 L134.4,489.6 L135.8,489.2 L137.2,488.8 L138.7,488.4 L140.1,487.8 L141.5,487.3 L142.8,486.7 L144.2,486.1 L145.5,485.4 L146.9,484.7 L148.2,484.0 L149.5,483.2 L150.7,482.4 L152.0,481.6 L153.2,480.7 L154.4,479.8 L155.6,478.9 L156.7,477.9 L157.9,477.0 L159.0,476.0 L160.2,475.0 L161.3,474.0 L162.4,473.0 L163.5,471.9 L164.5,470.9 L165.6,469.8 L166.6,468.7 L167.5,467.6 L168.5,466.4 L169.4,465.2 L170.4,464.1 L171.3,462.9 L172.2,461.6 L173.0,460.4 L173.9,459.2 L174.8,458.0 L175.7,456.8 L176.5,455.5 L177.4,454.3 L178.3,453.1 L179.1,451.9 L180.0,450.6 L180.8,449.4 L181.7,448.1 L182.5,446.9 L183.3,445.6 L184.1,444.4 L184.8,443.1 L185.6,441.8 L186.3,440.4 L186.9,439.1 L187.6,437.7 L188.2,436.3 L188.7,435.0 L189.3,433.6 L189.8,432.2 L190.4,430.8 L190.9,429.4 L191.4,427.9 L191.9,426.5 L192.4,425.1 L192.9,423.7 L193.5,422.3 L193.9,420.9 L194.4,419.5 L194.9,418.0 L195.4,416.6 L195.9,415.2 L196.3,413.8 L196.8,412.3 L197.2,410.9 L197.6,409.5 L198.1,408.0 L198.5,406.6 L198.9,405.1 L199.3,403.7 L199.7,402.2 L200.1,400.8 L200.5,399.3 L200.9,397.9 L201.3,396.5 L201.7,395.0 L202.1,393.6 L202.5,392.1 L203.0,390.7 L203.4,389.2 L203.8,387.8 L204.2,386.4 L204.7,384.9 L205.1,383.5 L205.5,382.1 L206.0,380.6 L206.4,379.2 L206.8,377.7 L207.3,376.3 L207.7,374.9 L208.2,373.4 L208.6,372.0 L209.0,370.6 L209.5,369.1 L209.9,367.7 L210.4,366.3 L210.8,364.8 L211.3,363.4 L211.7,362.0 L212.2,360.5 L212.6,359.1 L213.1,357.7 L213.5,356.2 L213.9,354.8 L214.4,353.4 L214.8,351.9 L215.3,350.5 L215.7,349.1 L216.2,347.7 L216.7,346.2 L217.2,344.8 L217.7,343.4 L218.3,342.0 L218.8,340.6 L219.4,339.2 L220.0,337.9 L220.6,336.5 L221.2,335.1 L221.9,333.8 L222.5,332.4 L223.2,331.1 L223.9,329.7 L224.6,328.4 L225.4,327.1 L226.2,325.9 L227.1,324.7 L228.1,323.6 L229.2,322.6 L230.3,321.6 L231.5,320.7 L232.7,319.9 L234.0,319.2 L235.4,318.6 L236.8,318.0 L238.2,317.5 L239.6,317.1 L241.1,316.6 L242.5,316.2 L244.0,315.9 L245.4,315.5 L246.9,315.2 L248.3,314.8 L249.8,314.5 L251.3,314.2 L252.8,313.9 L254.2,313.7 L255.7,313.4 L257.2,313.1 L258.6,312.8 L260.1,312.5 L261.6,312.2 L263.1,311.9 L264.5,311.6 L266.0,311.3 L267.5,311.1 L269.0,310.8 L270.4,310.5 L271.9,310.2 L273.4,309.9 L274.8,309.6 L276.3,309.3 L277.8,309.0 L279.3,308.7 L280.7,308.4 L282.2,308.2 L283.7,307.9 L285.2,307.6 L286.6,307.3 L288.1,307.0 L289.6,306.7 L291.0,306.4 L292.5,306.1 L294.0,305.8 L295.5,305.5 L296.9,305.3 L298.4,305.0 L299.9,304.7 L301.4,304.4 L302.8,304.1 L304.3,303.8" fill="none" stroke="#7fb020" stroke-width="2.35" stroke-linecap="round" stroke-linejoin="round"/>
<path d="M41.7,497.0 L43.2,496.9 L44.7,496.8 L46.2,496.7 L47.7,496.6 L49.2,496.5 L50.7,496.4 L52.2,496.3 L53.7,496.2 L55.2,496.1 L56.7,496.0 L58.2,495.9 L59.7,495.8 L61.2,495.7 L62.7,495.5 L64.2,495.4 L65.7,495.3 L67.2,495.2 L68.7,495.1 L70.2,494.9 L71.7,494.8 L73.2,494.7 L74.6,494.6 L76.1,494.4 L77.6,494.3 L79.1,494.2 L80.6,494.0 L82.1,493.9 L83.6,493.8 L85.1,493.6 L86.6,493.5 L88.1,493.3 L89.6,493.2 L91.1,493.0 L92.6,492.9 L94.1,492.7 L95.6,492.6 L97.1,492.4 L98.6,492.3 L100.1,492.1 L101.5,491.9 L103.0,491.8 L104.5,491.6 L106.0,491.5 L107.5,491.3 L109.0,491.1 L110.5,490.9 L112.0,490.7 L113.5,490.5 L115.0,490.3 L116.4,490.0 L117.9,489.7 L119.4,489.4 L120.8,489.0 L122.3,488.6 L123.7,488.1 L125.1,487.6 L126.5,487.1 L127.9,486.6 L129.3,486.0 L130.7,485.4 L132.0,484.7 L133.4,484.1 L134.7,483.4 L136.0,482.7 L137.3,482.0 L138.6,481.2 L139.9,480.4 L141.2,479.6 L142.4,478.8 L143.7,477.9 L144.9,477.0 L146.1,476.2 L147.3,475.3 L148.5,474.3 L149.6,473.4 L150.8,472.4 L151.9,471.4 L153.1,470.5 L154.2,469.4 L155.3,468.4 L156.3,467.4 L157.4,466.3 L158.4,465.2 L159.5,464.1 L160.5,463.0 L161.5,461.9 L162.5,460.8 L163.4,459.6 L164.4,458.5 L165.4,457.3 L166.4,456.2 L167.3,455.0 L168.3,453.9 L169.2,452.7 L170.1,451.5 L171.1,450.4 L172.0,449.2 L172.9,448.0 L173.8,446.8 L174.7,445.6 L175.6,444.4 L176.4,443.1 L177.3,441.9 L178.1,440.6 L178.9,439.4 L179.7,438.1 L180.4,436.8 L181.2,435.5 L181.9,434.1 L182.5,432.8 L183.2,431.4 L183.8,430.1 L184.4,428.7 L185.0,427.3 L185.6,425.9 L186.2,424.6 L186.7,423.1 L187.2,421.7 L187.7,420.3 L188.2,418.9 L188.7,417.5 L189.2,416.1 L189.7,414.7 L190.2,413.3 L190.7,411.8 L191.2,410.4 L191.7,409.0 L192.2,407.6 L192.8,406.2 L193.2,404.8 L193.7,403.3 L194.2,401.9 L194.7,400.5 L195.2,399.1 L195.7,397.7 L196.2,396.3 L196.7,394.8 L197.2,393.4 L197.7,392.0 L198.1,390.6 L198.6,389.1 L199.1,387.7 L199.6,386.3 L200.0,384.9 L200.5,383.4 L201.0,382.0 L201.4,380.6 L201.9,379.2 L202.4,377.7 L202.8,376.3 L203.3,374.9 L203.8,373.4 L204.2,372.0 L204.7,370.6 L205.1,369.2 L205.6,367.7 L206.1,366.3 L206.6,364.9 L207.0,363.5 L207.5,362.0 L208.0,360.6 L208.5,359.2 L209.0,357.8 L209.4,356.3 L209.9,354.9 L210.4,353.5 L210.9,352.1 L211.4,350.7 L211.9,349.2 L212.4,347.8 L212.9,346.4 L213.5,345.0 L214.1,343.6 L214.7,342.3 L215.3,340.9 L215.9,339.5 L216.6,338.2 L217.2,336.9 L217.9,335.5 L218.6,334.2 L219.3,332.9 L220.1,331.5 L220.8,330.2 L221.5,328.9 L222.3,327.7 L223.2,326.4 L224.1,325.3 L225.1,324.2 L226.2,323.1 L227.3,322.2 L228.5,321.3 L229.8,320.5 L231.1,319.8 L232.4,319.2 L233.8,318.6 L235.2,318.1 L236.6,317.6 L238.1,317.2 L239.5,316.8 L241.0,316.5 L242.4,316.1 L243.9,315.8 L245.4,315.4 L246.8,315.1 L248.3,314.8 L249.8,314.5 L251.3,314.2 L252.7,313.9 L254.2,313.7 L255.7,313.4 L257.2,313.1 L258.6,312.8 L260.1,312.5 L261.6,312.2 L263.0,311.9 L264.5,311.6 L266.0,311.3 L267.5,311.1 L268.9,310.8 L270.4,310.5 L271.9,310.2 L273.4,309.9 L274.8,309.6 L276.3,309.3 L277.8,309.0 L279.3,308.7 L280.7,308.4 L282.2,308.2 L283.7,307.9 L285.1,307.6 L286.6,307.3 L288.1,307.0 L289.6,306.7 L291.0,306.4 L292.5,306.1 L294.0,305.8 L295.5,305.5 L296.9,305.3 L298.4,305.0 L299.9,304.7 L301.4,304.4 L302.8,304.1 L304.3,303.8" fill="none" stroke="#b3a21c" stroke-width="2.35" stroke-linecap="round" stroke-linejoin="round"/>
<path d="M41.7,496.6 L43.2,496.5 L44.7,496.4 L46.2,496.3 L47.7,496.1 L49.2,496.0 L50.7,495.9 L52.2,495.8 L53.7,495.6 L55.2,495.5 L56.7,495.4 L58.2,495.2 L59.7,495.1 L61.1,494.9 L62.6,494.8 L64.1,494.6 L65.6,494.5 L67.1,494.3 L68.6,494.2 L70.1,494.0 L71.6,493.9 L73.1,493.7 L74.6,493.5 L76.1,493.4 L77.6,493.2 L79.1,493.0 L80.6,492.8 L82.0,492.7 L83.5,492.5 L85.0,492.3 L86.5,492.1 L88.0,491.9 L89.5,491.7 L91.0,491.5 L92.5,491.3 L93.9,491.1 L95.4,490.9 L96.9,490.6 L98.4,490.4 L99.9,490.2 L101.4,490.0 L102.9,489.8 L104.3,489.6 L105.8,489.3 L107.3,489.1 L108.8,488.8 L110.3,488.5 L111.7,488.1 L113.2,487.8 L114.6,487.4 L116.0,486.9 L117.5,486.5 L118.9,486.0 L120.3,485.5 L121.7,484.9 L123.1,484.4 L124.5,483.8 L125.8,483.1 L127.2,482.5 L128.5,481.8 L129.8,481.0 L131.1,480.3 L132.4,479.5 L133.7,478.7 L134.9,477.9 L136.2,477.1 L137.4,476.2 L138.6,475.3 L139.8,474.5 L141.0,473.6 L142.2,472.6 L143.4,471.7 L144.6,470.8 L145.7,469.8 L146.9,468.8 L148.0,467.8 L149.1,466.8 L150.2,465.8 L151.3,464.8 L152.4,463.8 L153.5,462.7 L154.5,461.6 L155.6,460.6 L156.6,459.5 L157.6,458.4 L158.7,457.3 L159.7,456.2 L160.6,455.0 L161.6,453.9 L162.6,452.7 L163.5,451.6 L164.4,450.4 L165.4,449.2 L166.3,448.0 L167.2,446.8 L168.1,445.7 L169.1,444.5 L170.1,443.3 L171.0,442.2 L171.9,441.0 L172.8,439.8 L173.7,438.6 L174.5,437.3 L175.3,436.1 L176.1,434.8 L176.8,433.5 L177.6,432.2 L178.3,430.8 L178.9,429.5 L179.6,428.1 L180.2,426.8 L180.8,425.4 L181.4,424.0 L182.0,422.6 L182.5,421.2 L183.0,419.8 L183.6,418.4 L184.1,417.0 L184.6,415.6 L185.2,414.2 L185.7,412.8 L186.3,411.4 L186.8,410.0 L187.4,408.6 L187.9,407.2 L188.4,405.8 L189.0,404.4 L189.5,403.0 L190.1,401.6 L190.6,400.2 L191.1,398.8 L191.7,397.4 L192.2,396.0 L192.7,394.6 L193.2,393.2 L193.7,391.8 L194.2,390.4 L194.7,388.9 L195.2,387.5 L195.7,386.1 L196.2,384.7 L196.7,383.3 L197.2,381.9 L197.7,380.4 L198.2,379.0 L198.7,377.6 L199.1,376.2 L199.6,374.7 L200.1,373.3 L200.6,371.9 L201.0,370.5 L201.5,369.0 L202.0,367.6 L202.5,366.2 L203.0,364.8 L203.4,363.4 L203.9,361.9 L204.4,360.5 L204.9,359.1 L205.4,357.7 L205.9,356.2 L206.3,354.8 L206.8,353.4 L207.3,352.0 L207.8,350.6 L208.3,349.1 L208.8,347.7 L209.3,346.3 L209.8,344.9 L210.4,343.5 L211.0,342.2 L211.6,340.8 L212.3,339.4 L212.9,338.1 L213.6,336.7 L214.3,335.4 L215.0,334.1 L215.8,332.8 L216.6,331.5 L217.4,330.2 L218.2,329.0 L219.0,327.8 L220.0,326.6 L220.9,325.5 L222.0,324.4 L223.1,323.4 L224.3,322.5 L225.5,321.7 L226.8,320.9 L228.1,320.2 L229.4,319.6 L230.8,319.0 L232.2,318.5 L233.7,318.1 L235.1,317.7 L236.6,317.3 L238.0,317.0 L239.5,316.6 L241.0,316.3 L242.4,316.0 L243.9,315.7 L245.4,315.4 L246.8,315.1 L248.3,314.8 L249.8,314.5 L251.3,314.2 L252.7,314.0 L254.2,313.7 L255.7,313.4 L257.2,313.1 L258.6,312.8 L260.1,312.5 L261.6,312.2 L263.1,311.9 L264.5,311.6 L266.0,311.3 L267.5,311.1 L268.9,310.8 L270.4,310.5 L271.9,310.2 L273.4,309.9 L274.8,309.6 L276.3,309.3 L277.8,309.0 L279.3,308.7 L280.7,308.4 L282.2,308.2 L283.7,307.9 L285.1,307.6 L286.6,307.3 L288.1,307.0 L289.6,306.7 L291.0,306.4 L292.5,306.1 L294.0,305.8 L295.5,305.5 L296.9,305.3 L298.4,305.0 L299.9,304.7 L301.4,304.4 L302.8,304.1 L304.3,303.8" fill="none" stroke="#bf5a14" stroke-width="2.35" stroke-linecap="round" stroke-linejoin="round"/>
<path d="M41.7,496.2 L43.2,496.1 L44.7,496.0 L46.2,495.9 L47.7,495.7 L49.2,495.6 L50.7,495.5 L52.2,495.3 L53.7,495.2 L55.2,495.0 L56.7,494.9 L58.1,494.7 L59.6,494.6 L61.1,494.4 L62.6,494.2 L64.1,494.0 L65.6,493.9 L67.1,493.7 L68.6,493.5 L70.1,493.3 L71.6,493.1 L73.0,492.9 L74.5,492.7 L76.0,492.5 L77.5,492.3 L79.0,492.0 L80.5,491.8 L82.0,491.6 L83.4,491.3 L84.9,491.1 L86.4,490.8 L87.9,490.5 L89.3,490.3 L90.8,490.0 L92.3,489.7 L93.8,489.4 L95.2,489.1 L96.7,488.8 L98.2,488.6 L99.7,488.3 L101.1,488.0 L102.6,487.7 L104.1,487.4 L105.6,487.1 L107.0,486.8 L108.5,486.5 L109.9,486.1 L111.4,485.7 L112.8,485.3 L114.3,484.8 L115.7,484.3 L117.1,483.8 L118.4,483.2 L119.8,482.5 L121.1,481.8 L122.4,481.1 L123.7,480.4 L125.0,479.6 L126.3,478.8 L127.5,477.9 L128.8,477.1 L130.0,476.3 L131.2,475.4 L132.4,474.5 L133.6,473.6 L134.8,472.7 L136.0,471.8 L137.2,470.8 L138.3,469.9 L139.5,468.9 L140.6,467.9 L141.8,467.0 L142.9,466.0 L144.0,465.0 L145.1,463.9 L146.2,462.9 L147.3,461.9 L148.4,460.8 L149.4,459.8 L150.5,458.7 L151.5,457.6 L152.6,456.6 L153.6,455.5 L154.7,454.4 L155.7,453.3 L156.7,452.2 L157.6,451.0 L158.6,449.9 L159.6,448.7 L160.6,447.6 L161.5,446.4 L162.5,445.3 L163.5,444.2 L164.4,443.0 L165.4,441.8 L166.3,440.7 L167.2,439.5 L168.1,438.3 L169.0,437.0 L169.8,435.8 L170.7,434.6 L171.5,433.3 L172.3,432.0 L173.1,430.7 L173.8,429.4 L174.6,428.1 L175.3,426.8 L176.0,425.5 L176.7,424.2 L177.3,422.8 L178.0,421.5 L178.6,420.1 L179.2,418.7 L179.9,417.4 L180.5,416.0 L181.1,414.6 L181.7,413.2 L182.2,411.9 L182.8,410.5 L183.4,409.1 L183.9,407.7 L184.4,406.3 L185.0,404.9 L185.5,403.5 L186.0,402.0 L186.5,400.6 L187.0,399.2 L187.6,397.8 L188.1,396.4 L188.6,395.0 L189.1,393.6 L189.6,392.2 L190.1,390.8 L190.6,389.3 L191.1,387.9 L191.6,386.5 L192.1,385.1 L192.6,383.7 L193.1,382.3 L193.6,380.9 L194.1,379.4 L194.6,378.0 L195.1,376.6 L195.6,375.2 L196.1,373.8 L196.6,372.4 L197.1,370.9 L197.6,369.5 L198.1,368.1 L198.6,366.7 L199.1,365.3 L199.5,363.8 L200.0,362.4 L200.5,361.0 L201.0,359.6 L201.5,358.2 L202.0,356.7 L202.5,355.3 L202.9,353.9 L203.4,352.5 L203.9,351.0 L204.4,349.6 L204.9,348.2 L205.4,346.8 L205.9,345.4 L206.5,344.0 L207.1,342.6 L207.7,341.3 L208.4,339.9 L209.1,338.6 L209.8,337.3 L210.5,336.0 L211.3,334.7 L212.0,333.4 L212.8,332.1 L213.6,330.8 L214.5,329.6 L215.4,328.4 L216.3,327.2 L217.3,326.1 L218.3,325.0 L219.4,324.0 L220.6,323.1 L221.8,322.2 L223.1,321.5 L224.4,320.8 L225.7,320.1 L227.1,319.6 L228.5,319.0 L230.0,318.6 L231.4,318.2 L232.9,317.8 L234.3,317.5 L235.8,317.2 L237.3,316.9 L238.7,316.6 L240.2,316.3 L241.7,316.0 L243.2,315.7 L244.6,315.5 L246.1,315.2 L247.6,314.9 L249.1,314.6 L250.5,314.3 L252.0,314.1 L253.5,313.8 L255.0,313.5 L256.4,313.2 L257.9,312.9 L259.4,312.7 L260.8,312.4 L262.3,312.1 L263.8,311.8 L265.3,311.5 L266.7,311.2 L268.2,310.9 L269.7,310.6 L271.2,310.3 L272.6,310.0 L274.1,309.7 L275.6,309.5 L277.0,309.2 L278.5,308.9 L280.0,308.6 L281.5,308.3 L282.9,308.0 L284.4,307.7 L285.9,307.4 L287.4,307.1 L288.8,306.8 L290.3,306.6 L291.8,306.3 L293.3,306.0 L294.7,305.7 L296.2,305.4 L297.7,305.1 L299.1,304.8 L300.6,304.5 L302.1,304.2 L303.6,303.9 L304.3,303.8" fill="none" stroke="#0e8a8c" stroke-width="2.35" stroke-linecap="round" stroke-linejoin="round"/>
<path d="M167,416.5L217.5,406.5" stroke="#000" stroke-width="2.1" stroke-dasharray="7.3,3.6" fill="none"/>
<circle cx="181.4" cy="413.4" r="0.55" fill="#e01010"/>
<circle cx="186.5" cy="412.4" r="0.55" fill="#e01010"/>
<circle cx="191.9" cy="411.4" r="0.55" fill="#e01010"/>
<circle cx="198.2" cy="410.2" r="0.55" fill="#e01010"/>
<circle cx="202.6" cy="409.5" r="0.55" fill="#e01010"/>
<circle cx="205.1" cy="408.9" r="0.55" fill="#e01010"/>
<circle cx="210.2" cy="408" r="0.55" fill="#e01010"/>
<text x="38" y="289.2" font-size="13.3">Cell 1 warming</text>
<text x="47.3" y="348.7" font-size="13">Magnetic fields</text>
<path d="M45.7,361.4H77.6" stroke="#7b0fa8" stroke-width="2"/>
<text x="80.8" y="365.6" font-size="12.5">0 T</text>
<path d="M45.7,378.3H77.6" stroke="#1177c0" stroke-width="2"/>
<text x="80.8" y="382.5" font-size="12.5">0.5 T</text>
<path d="M45.7,395.2H77.6" stroke="#8fd3f7" stroke-width="2"/>
<text x="80.8" y="399.4" font-size="12.5">1 T</text>
<path d="M45.7,412.1H77.6" stroke="#7fb020" stroke-width="2"/>
<text x="80.8" y="416.3" font-size="12.5">2 T</text>
<path d="M45.7,429.0H77.6" stroke="#b3a21c" stroke-width="2"/>
<text x="80.8" y="433.2" font-size="12.5">4 T</text>
<path d="M45.7,445.9H77.6" stroke="#bf5a14" stroke-width="2"/>
<text x="80.8" y="450.1" font-size="12.5">6 T</text>
<path d="M45.7,462.8H77.6" stroke="#0e8a8c" stroke-width="2"/>
<text x="80.8" y="467.0" font-size="12.5">8 T</text>
<path d="M259.3,345L237,323.6" stroke="#000" stroke-width="1.1" fill="none"/>
<path d="M234.1,320.9 l5.6,2.6 l-2.9,3 z" fill="#000"/>
<text class="it" x="244.7" y="360.6" font-size="10">T</text>
<text class="it" x="251.2" y="363.8" font-size="10.8">c</text>
<text class="it" x="251.3" y="358.2" font-size="11.3">onset</text>
<text x="285" y="360.6" font-size="10">=</text>
<text x="298.2" y="360.6" font-size="10.4">73</text>
<text x="313.1" y="360.6" font-size="10.4">K</text>
<text x="178.5" y="524.5" text-anchor="middle" font-size="13.5">Temperature (K)</text>
<text transform="translate(15.4,384.1) rotate(-90)" text-anchor="middle" font-size="13.5">Resistance (Ω)</text>
</g>
<g id="panel-d">
<rect x="379.9" y="271.1" width="297.70000000000005" height="227.39999999999998" fill="none" stroke="#000" stroke-width="1.8"/>
<path d="M379.9,498.5v4.7M420.6,498.5v4.7M461.3,498.5v4.7M502.0,498.5v4.7M542.7,498.5v4.7M583.4,498.5v4.7M624.1,498.5v4.7M664.8,498.5v4.7M400.2,498.5v2.6M440.9,498.5v2.6M481.6,498.5v2.6M522.4,498.5v2.6M563.0,498.5v2.6M603.8,498.5v2.6M644.5,498.5v2.6M379.9,498.5h-4.7M379.9,453.0h-4.7M379.9,407.5h-4.7M379.9,362.1h-4.7M379.9,316.6h-4.7M379.9,271.1h-4.7M379.9,475.8h-2.6M379.9,430.3h-2.6M379.9,384.8h-2.6M379.9,339.3h-2.6M379.9,293.8h-2.6" stroke="#000" stroke-width="1.8" fill="none"/>
<text x="379.9" y="513.2" text-anchor="middle" font-size="9.4">0</text>
<text x="420.6" y="513.2" text-anchor="middle" font-size="9.4">10</text>
<text x="461.3" y="513.2" text-anchor="middle" font-size="9.4">20</text>
<text x="502.0" y="513.2" text-anchor="middle" font-size="9.4">30</text>
<text x="542.7" y="513.2" text-anchor="middle" font-size="9.4">40</text>
<text x="583.4" y="513.2" text-anchor="middle" font-size="9.4">50</text>
<text x="624.1" y="513.2" text-anchor="middle" font-size="9.4">60</text>
<text x="664.8" y="513.2" text-anchor="middle" font-size="9.4">70</text>
<text x="372.1" y="501.0" text-anchor="end" font-size="9.17">0</text>
<text x="372.1" y="455.6" text-anchor="end" font-size="9.17">20</text>
<text x="372.1" y="410.1" text-anchor="end" font-size="9.17">40</text>
<text x="372.1" y="364.6" text-anchor="end" font-size="9.17">60</text>
<text x="372.1" y="319.1" text-anchor="end" font-size="9.17">80</text>
<text x="372.1" y="273.6" text-anchor="end" font-size="9.17">100</text>
<circle cx="606.5" cy="480" r="2.6" fill="none" stroke="#6d9c1c" stroke-width="1.3"/>
<circle cx="614.2" cy="484.4" r="2.6" fill="none" stroke="#6d9c1c" stroke-width="1.3"/>
<circle cx="622.9" cy="489.1" r="2.6" fill="none" stroke="#6d9c1c" stroke-width="1.3"/>
<circle cx="632.2" cy="493.8" r="2.6" fill="none" stroke="#6d9c1c" stroke-width="1.3"/>
<circle cx="639" cy="495.6" r="2.6" fill="none" stroke="#6d9c1c" stroke-width="1.3"/>
<circle cx="642.5" cy="496.3" r="2.6" fill="none" stroke="#6d9c1c" stroke-width="1.3"/>
<circle cx="652.4" cy="497.4" r="2.6" fill="none" stroke="#6d9c1c" stroke-width="1.3"/>
<path d="M380.3,276.2 L382.3,276.4 L384.3,276.6 L386.3,276.8 L388.2,277.2 L390.2,277.6 L392.1,278.1 L394.0,278.6 L395.9,279.3 L397.8,280.0 L399.6,280.8 L401.4,281.6 L403.2,282.5 L405.0,283.4 L406.8,284.3 L408.6,285.3 L410.3,286.3 L412.0,287.3 L413.7,288.4 L415.3,289.5 L417.0,290.6 L418.6,291.8 L420.2,293.0 L421.9,294.1 L423.5,295.3 L425.1,296.6 L426.6,297.8 L428.2,299.0 L429.8,300.3 L431.3,301.5 L432.9,302.8 L434.4,304.1 L435.9,305.4 L437.5,306.7 L439.0,308.0 L440.5,309.3 L442.0,310.7 L443.4,312.0 L444.9,313.4 L446.4,314.7 L447.8,316.1 L449.3,317.5 L450.7,318.9 L452.1,320.3 L453.5,321.7 L454.9,323.1 L456.3,324.6 L457.7,326.0 L459.1,327.5 L460.5,328.9 L461.9,330.4 L463.3,331.8 L464.6,333.3 L466.0,334.7 L467.4,336.2 L468.7,337.6 L470.1,339.1 L471.5,340.6 L472.8,342.0 L474.2,343.5 L475.6,345.0 L476.9,346.4 L478.3,347.9 L479.6,349.4 L481.0,350.9 L482.3,352.4 L483.6,353.9 L485.0,355.3 L486.3,356.8 L487.7,358.3 L489.0,359.8 L490.4,361.3 L491.7,362.7 L493.1,364.2 L494.4,365.7 L495.8,367.2 L497.2,368.6 L498.5,370.1 L499.9,371.6 L501.2,373.1 L502.6,374.5 L503.9,376.0 L505.2,377.5 L506.6,379.0 L507.9,380.5 L509.2,382.0 L510.5,383.5 L511.9,385.0 L513.2,386.5 L514.5,388.0 L515.8,389.5 L517.1,391.0 L518.5,392.6 L519.8,394.1 L521.1,395.6 L522.4,397.1 L523.7,398.6 L525.0,400.1 L526.4,401.6 L527.7,403.1 L529.0,404.6 L530.3,406.1 L531.6,407.6 L532.9,409.1 L534.2,410.7 L535.6,412.2 L536.9,413.7 L538.2,415.2 L539.5,416.7 L540.8,418.2 L542.1,419.7 L543.4,421.2 L544.7,422.8 L546.1,424.3 L547.4,425.8 L548.7,427.3 L550.0,428.8 L551.3,430.3 L552.6,431.8 L553.9,433.3 L555.2,434.9 L556.6,436.3 L557.9,437.8 L559.3,439.3 L560.6,440.8 L562.0,442.2 L563.4,443.7 L564.8,445.1 L566.2,446.6 L567.6,448.0 L569.0,449.4 L570.4,450.8 L571.9,452.2 L573.3,453.6 L574.8,454.9 L576.3,456.3 L577.7,457.6 L579.2,459.0 L580.7,460.3 L582.2,461.6 L583.7,463.0 L585.2,464.3 L586.7,465.6 L588.3,466.9 L589.8,468.2 L591.4,469.4 L592.9,470.7 L594.5,471.9 L596.1,473.1 L597.7,474.4 L599.3,475.5 L600.9,476.7 L602.5,477.9 L604.2,479.0 L605.8,480.1 L607.5,481.2 L609.2,482.3 L610.9,483.3 L612.6,484.3 L614.4,485.3 L616.1,486.3 L617.9,487.2 L619.7,488.1 L621.5,489.0 L623.3,489.8 L625.1,490.6 L627.0,491.4 L628.8,492.2 L630.7,492.9 L632.6,493.6 L634.5,494.3 L636.4,494.9 L638.3,495.5 L640.2,496.0 L642.2,496.5 L644.1,496.9 L646.1,497.3 L648.0,497.7 L649.5,498.0" fill="none" stroke="#45b5f7" stroke-width="2.5" stroke-linecap="round"/>
<circle cx="500.8" cy="287.4" r="2.6" fill="none" stroke="#6d9c1c" stroke-width="1.1"/><circle cx="500.8" cy="287.4" r="0.8" fill="#6d9c1c"/>
<text x="518" y="290.8" font-size="11.1">exp data</text>
<path d="M486.9,302.2H514.7" stroke="#45b5f7" stroke-width="2.4" stroke-linecap="round"/>
<text x="518" y="306.1" font-size="11.1" style="white-space:pre">two band, <tspan class="it" font-size="14.5" style="font-weight:normal;font-family:'Liberation Serif',serif">μ</tspan><tspan font-size="8.2" dy="2.4">0</tspan><tspan class="it" dy="-2.4" dx="0.6">H</tspan><tspan class="it" font-size="8.2" dy="2.4">c</tspan><tspan dy="-2.4" dx="0.8">(0) = 97.7 T</tspan></text>
<text x="534" y="524" text-anchor="middle" font-size="13.5">Temperature (K)</text>
<text transform="translate(359.2,384.4) rotate(-90)" text-anchor="middle" font-size="13.4">Magnetic field (T)</text>
</g>
</svg></body></html>
